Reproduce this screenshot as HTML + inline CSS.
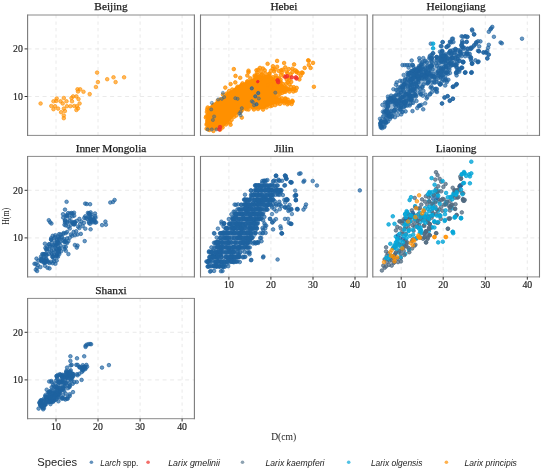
<!DOCTYPE html><html><head><meta charset="utf-8"><style>html,body{margin:0;padding:0;background:#fff;}svg{display:block}</style></head><body>
<svg width="550" height="476" viewBox="0 0 550 476">
<rect width="550" height="476" fill="#fff"/>
<path d="M56.0 15.0V135.4M98.0 15.0V135.4M140.1 15.0V135.4M182.1 15.0V135.4M228.9 15.0V135.4M270.9 15.0V135.4M313.0 15.0V135.4M355.0 15.0V135.4M401.2 15.0V135.4M443.2 15.0V135.4M485.3 15.0V135.4M527.3 15.0V135.4M56.0 156.4V276.9M98.0 156.4V276.9M140.1 156.4V276.9M182.1 156.4V276.9M228.9 156.4V276.9M270.9 156.4V276.9M313.0 156.4V276.9M355.0 156.4V276.9M401.2 156.4V276.9M443.2 156.4V276.9M485.3 156.4V276.9M527.3 156.4V276.9M56.0 298.4V418.7M98.0 298.4V418.7M140.1 298.4V418.7M182.1 298.4V418.7" stroke="#e4e4e4" stroke-width="0.8" stroke-dasharray="3.3 3.2" fill="none"/>
<path d="M27.6 96.5H194.4M27.6 48.9H194.4M200.5 96.5H367.2M200.5 48.9H367.2M372.8 96.5H539.5M372.8 48.9H539.5M27.6 237.9H194.4M27.6 190.3H194.4M200.5 237.9H367.2M200.5 190.3H367.2M372.8 237.9H539.5M372.8 190.3H539.5M27.6 379.9H194.4M27.6 332.3H194.4" stroke="#e4e4e4" stroke-width="0.8" stroke-dasharray="4 3.5" fill="none"/>
<g>
<g fill="#ff9000" fill-opacity="0.64" stroke="#ff9000" stroke-opacity="0.70" stroke-width="0.9"><circle cx="40.6" cy="103.5" r="1.8"/><circle cx="51.3" cy="106.0" r="1.8"/><circle cx="53.5" cy="101.3" r="1.8"/><circle cx="55.1" cy="106.2" r="1.8"/><circle cx="53.5" cy="109.2" r="1.8"/><circle cx="56.7" cy="98.5" r="1.8"/><circle cx="56.2" cy="100.9" r="1.8"/><circle cx="58.1" cy="108.6" r="1.8"/><circle cx="60.5" cy="101.3" r="1.8"/><circle cx="62.7" cy="103.5" r="1.8"/><circle cx="63.8" cy="98.0" r="1.8"/><circle cx="66.5" cy="101.3" r="1.8"/><circle cx="63.8" cy="108.6" r="1.8"/><circle cx="64.9" cy="111.1" r="1.8"/><circle cx="61.1" cy="112.2" r="1.8"/><circle cx="63.8" cy="115.5" r="1.8"/><circle cx="63.8" cy="118.2" r="1.8"/><circle cx="66.9" cy="106.2" r="1.8"/><circle cx="70.4" cy="106.2" r="1.8"/><circle cx="71.5" cy="98.0" r="1.8"/><circle cx="72.0" cy="101.3" r="1.8"/><circle cx="73.1" cy="96.4" r="1.8"/><circle cx="76.4" cy="96.4" r="1.8"/><circle cx="78.5" cy="99.1" r="1.8"/><circle cx="74.2" cy="106.0" r="1.8"/><circle cx="76.9" cy="106.2" r="1.8"/><circle cx="79.6" cy="103.5" r="1.8"/><circle cx="78.0" cy="108.4" r="1.8"/><circle cx="76.4" cy="110.0" r="1.8"/><circle cx="77.5" cy="89.3" r="1.8"/><circle cx="80.2" cy="89.3" r="1.8"/><circle cx="78.0" cy="91.5" r="1.8"/><circle cx="83.5" cy="91.8" r="1.8"/><circle cx="89.7" cy="94.1" r="1.8"/><circle cx="97.1" cy="72.6" r="1.8"/><circle cx="97.9" cy="82.1" r="1.8"/><circle cx="95.9" cy="87.0" r="1.8"/><circle cx="107.2" cy="79.2" r="1.8"/><circle cx="113.5" cy="77.3" r="1.8"/><circle cx="115.6" cy="82.1" r="1.8"/><circle cx="124.1" cy="77.3" r="1.8"/></g>
</g>
<g>
<path d="M206.5 129.4L205.9 118.8L206.5 109.4L208.2 107.1L211.8 104.7L215.3 101.8L218.8 99.4L222.4 97.1L225.3 94.1L228.2 91.8L231.8 90.0L235.3 87.1L238.8 84.7L242.4 82.9L247.1 81.2L250.0 79.7L254.7 77.4L260.6 76.2L265.3 75.0L270.0 75.6L273.5 77.4L278.2 79.7L281.8 83.2L285.3 86.8L290.0 88.0L295.9 88.5L297.1 89.7L293.5 90.9L287.6 91.5L282.9 92.6L278.2 93.8L275.9 95.6L279.4 97.9L284.1 99.1L290.0 100.3L293.5 101.5L291.2 103.2L285.3 103.8L280.6 103.2L273.5 104.4L267.6 106.8L264.1 109.1L260.0 109.4L255.3 109.4L249.4 108.2L244.7 109.4L241.2 110.6L237.6 114.1L234.1 116.5L231.8 118.8L229.4 121.2L225.9 124.7L223.5 127.1L221.2 128.8L217.6 129.4L211.8 130.0Z" fill="#ff9000" fill-opacity="1.0"/>
<g fill="#ff9000" fill-opacity="0.77" stroke="#ff9000" stroke-opacity="0.84" stroke-width="0.9"><circle cx="261.0" cy="78.2" r="1.8"/><circle cx="260.3" cy="79.5" r="1.8"/><circle cx="300.7" cy="75.7" r="1.8"/><circle cx="278.7" cy="81.3" r="1.8"/><circle cx="280.9" cy="74.8" r="1.8"/><circle cx="248.5" cy="72.2" r="1.8"/><circle cx="274.6" cy="85.9" r="1.8"/><circle cx="268.2" cy="85.2" r="1.8"/><circle cx="272.3" cy="86.5" r="1.8"/><circle cx="274.2" cy="88.2" r="1.8"/><circle cx="281.3" cy="70.2" r="1.8"/><circle cx="271.0" cy="70.8" r="1.8"/><circle cx="299.4" cy="79.4" r="1.8"/><circle cx="257.2" cy="74.7" r="1.8"/><circle cx="273.0" cy="68.8" r="1.8"/><circle cx="291.2" cy="81.9" r="1.8"/><circle cx="278.2" cy="78.8" r="1.8"/><circle cx="280.6" cy="79.7" r="1.8"/><circle cx="296.7" cy="71.4" r="1.8"/><circle cx="289.2" cy="80.3" r="1.8"/><circle cx="278.0" cy="80.5" r="1.8"/><circle cx="298.4" cy="73.1" r="1.8"/><circle cx="274.8" cy="69.5" r="1.8"/><circle cx="284.0" cy="76.3" r="1.8"/><circle cx="292.5" cy="68.7" r="1.8"/><circle cx="286.2" cy="83.7" r="1.8"/><circle cx="279.2" cy="78.2" r="1.8"/><circle cx="302.6" cy="72.9" r="1.8"/><circle cx="287.8" cy="82.3" r="1.8"/><circle cx="289.2" cy="77.6" r="1.8"/><circle cx="270.3" cy="86.9" r="1.8"/><circle cx="269.3" cy="73.8" r="1.8"/><circle cx="280.0" cy="81.9" r="1.8"/><circle cx="286.7" cy="79.5" r="1.8"/><circle cx="270.6" cy="84.1" r="1.8"/></g>
<g fill="#ff9000" fill-opacity="0.77" stroke="#ff9000" stroke-opacity="0.84" stroke-width="0.9"><circle cx="206.6" cy="128.7" r="1.8"/><circle cx="206.6" cy="124.7" r="1.8"/><circle cx="207.0" cy="123.5" r="1.8"/><circle cx="207.2" cy="121.0" r="1.8"/><circle cx="205.9" cy="117.6" r="1.8"/><circle cx="206.4" cy="116.3" r="1.8"/><circle cx="206.9" cy="112.0" r="1.8"/><circle cx="207.2" cy="109.5" r="1.8"/><circle cx="207.7" cy="107.5" r="1.8"/><circle cx="213.3" cy="104.8" r="1.8"/><circle cx="217.8" cy="100.5" r="1.8"/><circle cx="220.4" cy="99.3" r="1.8"/><circle cx="223.0" cy="94.6" r="1.8"/><circle cx="226.8" cy="93.6" r="1.8"/><circle cx="229.1" cy="91.1" r="1.8"/><circle cx="232.3" cy="89.5" r="1.8"/><circle cx="237.5" cy="86.7" r="1.8"/><circle cx="241.7" cy="84.9" r="1.8"/><circle cx="242.5" cy="83.4" r="1.8"/><circle cx="247.1" cy="81.7" r="1.8"/><circle cx="247.6" cy="81.4" r="1.8"/><circle cx="250.3" cy="78.3" r="1.8"/><circle cx="254.7" cy="77.0" r="1.8"/><circle cx="255.9" cy="76.3" r="1.8"/><circle cx="258.8" cy="77.6" r="1.8"/><circle cx="260.9" cy="75.1" r="1.8"/><circle cx="263.6" cy="76.3" r="1.8"/><circle cx="268.1" cy="76.5" r="1.8"/><circle cx="269.6" cy="76.2" r="1.8"/><circle cx="272.8" cy="77.2" r="1.8"/><circle cx="275.9" cy="77.9" r="1.8"/><circle cx="278.7" cy="81.7" r="1.8"/><circle cx="280.7" cy="82.3" r="1.8"/><circle cx="282.7" cy="84.0" r="1.8"/><circle cx="284.4" cy="86.7" r="1.8"/><circle cx="285.8" cy="87.5" r="1.8"/><circle cx="287.5" cy="88.6" r="1.8"/><circle cx="291.0" cy="86.9" r="1.8"/><circle cx="293.9" cy="87.2" r="1.8"/><circle cx="296.7" cy="87.9" r="1.8"/><circle cx="295.7" cy="90.6" r="1.8"/><circle cx="293.4" cy="91.5" r="1.8"/><circle cx="289.5" cy="91.6" r="1.8"/><circle cx="285.6" cy="91.7" r="1.8"/><circle cx="284.0" cy="91.9" r="1.8"/><circle cx="282.1" cy="92.9" r="1.8"/><circle cx="279.8" cy="94.0" r="1.8"/><circle cx="278.3" cy="94.4" r="1.8"/><circle cx="275.9" cy="96.8" r="1.8"/><circle cx="279.0" cy="97.8" r="1.8"/><circle cx="281.8" cy="98.3" r="1.8"/><circle cx="285.5" cy="99.1" r="1.8"/><circle cx="287.8" cy="99.6" r="1.8"/><circle cx="292.3" cy="100.7" r="1.8"/><circle cx="292.3" cy="101.8" r="1.8"/><circle cx="291.6" cy="104.0" r="1.8"/><circle cx="287.4" cy="104.3" r="1.8"/><circle cx="284.2" cy="103.2" r="1.8"/><circle cx="279.9" cy="103.9" r="1.8"/><circle cx="277.5" cy="103.5" r="1.8"/><circle cx="275.1" cy="105.1" r="1.8"/><circle cx="272.0" cy="105.6" r="1.8"/><circle cx="270.2" cy="106.1" r="1.8"/><circle cx="266.6" cy="107.4" r="1.8"/><circle cx="263.1" cy="109.6" r="1.8"/><circle cx="258.0" cy="109.0" r="1.8"/><circle cx="253.9" cy="109.5" r="1.8"/><circle cx="252.6" cy="107.6" r="1.8"/><circle cx="248.6" cy="109.5" r="1.8"/><circle cx="246.7" cy="109.3" r="1.8"/><circle cx="245.3" cy="108.6" r="1.8"/><circle cx="241.3" cy="111.0" r="1.8"/><circle cx="240.0" cy="113.1" r="1.8"/><circle cx="236.3" cy="115.5" r="1.8"/><circle cx="234.1" cy="116.8" r="1.8"/><circle cx="231.6" cy="119.8" r="1.8"/><circle cx="229.9" cy="122.4" r="1.8"/><circle cx="227.6" cy="122.6" r="1.8"/><circle cx="225.9" cy="124.5" r="1.8"/><circle cx="222.6" cy="127.4" r="1.8"/><circle cx="220.2" cy="129.6" r="1.8"/><circle cx="216.5" cy="128.5" r="1.8"/><circle cx="213.4" cy="130.9" r="1.8"/><circle cx="209.4" cy="129.9" r="1.8"/><circle cx="208.2" cy="129.3" r="1.8"/></g>
<g fill="#ff9000" fill-opacity="0.77" stroke="#ff9000" stroke-opacity="0.84" stroke-width="0.9"><circle cx="233.8" cy="69.1" r="1.8"/><circle cx="248.5" cy="70.7" r="1.8"/><circle cx="235.5" cy="75.9" r="1.8"/><circle cx="240.2" cy="77.8" r="1.8"/><circle cx="308.7" cy="60.8" r="1.8"/><circle cx="313.0" cy="62.9" r="1.8"/><circle cx="310.6" cy="67.9" r="1.8"/><circle cx="313.9" cy="86.8" r="1.8"/><circle cx="247.3" cy="75.5" r="1.8"/><circle cx="230.6" cy="84.1" r="1.8"/><circle cx="225.3" cy="87.6" r="1.8"/><circle cx="235.3" cy="82.4" r="1.8"/><circle cx="230.6" cy="124.7" r="1.8"/><circle cx="241.8" cy="117.6" r="1.8"/><circle cx="241.8" cy="110.0" r="1.8"/><circle cx="267.6" cy="63.8" r="1.8"/><circle cx="272.9" cy="66.2" r="1.8"/><circle cx="277.1" cy="60.9" r="1.8"/><circle cx="284.1" cy="63.0" r="1.8"/><circle cx="294.1" cy="64.4" r="1.8"/><circle cx="285.3" cy="67.4" r="1.8"/><circle cx="288.8" cy="69.1" r="1.8"/><circle cx="295.3" cy="70.3" r="1.8"/><circle cx="296.5" cy="72.1" r="1.8"/><circle cx="301.8" cy="72.6" r="1.8"/><circle cx="304.7" cy="67.9" r="1.8"/><circle cx="308.2" cy="60.3" r="1.8"/><circle cx="308.8" cy="65.0" r="1.8"/><circle cx="278.8" cy="70.9" r="1.8"/><circle cx="281.8" cy="72.6" r="1.8"/><circle cx="274.1" cy="71.5" r="1.8"/><circle cx="269.4" cy="73.8" r="1.8"/><circle cx="265.3" cy="73.2" r="1.8"/><circle cx="260.0" cy="67.9" r="1.8"/><circle cx="258.2" cy="69.7" r="1.8"/><circle cx="256.5" cy="70.3" r="1.8"/><circle cx="262.9" cy="68.5" r="1.8"/><circle cx="264.7" cy="70.3" r="1.8"/><circle cx="261.2" cy="72.1" r="1.8"/><circle cx="257.1" cy="72.6" r="1.8"/><circle cx="254.7" cy="75.6" r="1.8"/><circle cx="259.4" cy="76.8" r="1.8"/><circle cx="261.8" cy="74.4" r="1.8"/><circle cx="266.5" cy="76.8" r="1.8"/><circle cx="271.2" cy="78.5" r="1.8"/><circle cx="275.9" cy="75.6" r="1.8"/><circle cx="287.6" cy="73.2" r="1.8"/><circle cx="290.6" cy="74.4" r="1.8"/><circle cx="292.4" cy="72.1" r="1.8"/><circle cx="286.5" cy="71.5" r="1.8"/><circle cx="282.9" cy="69.7" r="1.8"/><circle cx="277.1" cy="66.8" r="1.8"/><circle cx="289.4" cy="84.4" r="1.8"/><circle cx="294.1" cy="89.1" r="1.8"/><circle cx="292.4" cy="101.5" r="1.8"/><circle cx="285.3" cy="98.5" r="1.8"/><circle cx="288.8" cy="103.2" r="1.8"/></g>
<g fill="#1f63a0" fill-opacity="0.42" stroke="#1f63a0" stroke-opacity="0.46" stroke-width="0.9"><circle cx="207.6" cy="129.4" r="1.6"/><circle cx="211.8" cy="129.4" r="1.6"/><circle cx="216.5" cy="129.4" r="1.6"/><circle cx="222.9" cy="92.9" r="1.6"/><circle cx="224.1" cy="97.1" r="1.6"/><circle cx="221.8" cy="98.8" r="1.6"/><circle cx="218.2" cy="99.4" r="1.6"/><circle cx="211.8" cy="102.9" r="1.6"/><circle cx="211.2" cy="109.4" r="1.6"/><circle cx="212.9" cy="120.0" r="1.6"/><circle cx="235.3" cy="98.2" r="1.6"/><circle cx="237.6" cy="98.8" r="1.6"/><circle cx="240.6" cy="111.8" r="1.6"/><circle cx="240.6" cy="115.3" r="1.6"/><circle cx="239.4" cy="113.5" r="1.6"/><circle cx="251.8" cy="88.2" r="1.6"/><circle cx="255.3" cy="96.5" r="1.6"/><circle cx="258.2" cy="92.9" r="1.6"/><circle cx="254.1" cy="105.3" r="1.6"/><circle cx="256.5" cy="104.1" r="1.6"/><circle cx="251.8" cy="101.2" r="1.6"/><circle cx="241.8" cy="108.2" r="1.6"/><circle cx="214.1" cy="116.5" r="1.6"/><circle cx="251.8" cy="88.5" r="1.6"/><circle cx="258.2" cy="93.2" r="1.6"/><circle cx="258.8" cy="98.5" r="1.6"/><circle cx="255.3" cy="96.2" r="1.6"/><circle cx="275.3" cy="92.6" r="1.6"/><circle cx="256.5" cy="104.4" r="1.6"/><circle cx="252.9" cy="102.1" r="1.6"/></g>
<g fill="#f0302a" fill-opacity="0.83" stroke="#f0302a" stroke-opacity="0.90" stroke-width="0.9"><circle cx="220.0" cy="127.1" r="1.8"/><circle cx="219.4" cy="129.4" r="1.8"/><circle cx="287.1" cy="76.2" r="1.8"/><circle cx="291.8" cy="77.4" r="1.8"/><circle cx="295.9" cy="77.4" r="1.8"/><circle cx="296.5" cy="78.5" r="1.8"/><circle cx="277.6" cy="80.3" r="1.8"/><circle cx="278.2" cy="82.1" r="1.8"/><circle cx="285.3" cy="76.8" r="1.8"/></g>
<g fill="#f0302a" fill-opacity="0.88" stroke="#f0302a" stroke-opacity="0.96" stroke-width="0.9"><circle cx="257.9" cy="81.4" r="1.1"/><circle cx="257.6" cy="81.8" r="1.1"/></g>
</g>
<g>
<path d="M381.5 127.5L379.1 123.5L380.2 117.6L382.6 113.0L382.5 107.5L385.0 103.5L388.5 100.0L391.4 97.5L392.7 96.0L396.5 90.9L400.4 83.3L405.5 76.9L408.0 72.5L411.8 70.5L416.9 66.7L420.7 62.9L428.4 61.0L434.7 59.1L441.1 55.3L446.2 52.5L450.3 51.5L454.0 51.4L456.6 52.1L457.8 55.2L455.3 59.0L454.0 62.8L452.8 66.6L450.3 70.3L447.7 72.9L445.2 75.4L442.7 77.9L438.9 80.4L433.2 81.5L428.4 83.2L423.6 87.1L420.0 92.0L418.0 97.0L414.4 103.5L405.0 108.2L397.9 111.8L393.2 115.3L389.6 120.0L386.1 123.5L384.0 127.5Z" fill="#1f63a0" fill-opacity="0.45"/>
<g fill="#1f63a0" fill-opacity="0.61" stroke="#1f63a0" stroke-opacity="0.66" stroke-width="0.9"><circle cx="457.2" cy="56.4" r="1.8"/><circle cx="419.0" cy="67.5" r="1.8"/><circle cx="425.6" cy="94.6" r="1.8"/><circle cx="445.3" cy="60.2" r="1.8"/><circle cx="448.0" cy="58.5" r="1.8"/><circle cx="432.1" cy="57.5" r="1.8"/><circle cx="425.2" cy="103.3" r="1.8"/><circle cx="456.6" cy="71.8" r="1.8"/><circle cx="404.2" cy="97.1" r="1.8"/><circle cx="407.4" cy="72.7" r="1.8"/><circle cx="405.4" cy="86.9" r="1.8"/><circle cx="439.9" cy="51.7" r="1.8"/><circle cx="409.9" cy="95.0" r="1.8"/><circle cx="394.9" cy="109.7" r="1.8"/><circle cx="408.0" cy="76.4" r="1.8"/><circle cx="387.1" cy="109.1" r="1.8"/><circle cx="380.7" cy="125.5" r="1.8"/><circle cx="425.7" cy="72.9" r="1.8"/><circle cx="413.4" cy="66.7" r="1.8"/><circle cx="417.8" cy="82.0" r="1.8"/><circle cx="382.4" cy="123.0" r="1.8"/><circle cx="451.7" cy="57.8" r="1.8"/><circle cx="390.7" cy="117.1" r="1.8"/><circle cx="403.6" cy="84.6" r="1.8"/><circle cx="419.9" cy="71.2" r="1.8"/><circle cx="421.7" cy="75.1" r="1.8"/><circle cx="409.7" cy="105.5" r="1.8"/><circle cx="402.4" cy="87.3" r="1.8"/><circle cx="399.7" cy="102.7" r="1.8"/><circle cx="408.3" cy="100.5" r="1.8"/><circle cx="423.4" cy="90.9" r="1.8"/><circle cx="392.2" cy="116.4" r="1.8"/><circle cx="442.1" cy="61.3" r="1.8"/><circle cx="436.4" cy="81.9" r="1.8"/><circle cx="416.5" cy="101.0" r="1.8"/><circle cx="396.9" cy="103.9" r="1.8"/><circle cx="419.2" cy="65.8" r="1.8"/><circle cx="418.7" cy="78.6" r="1.8"/><circle cx="402.1" cy="81.0" r="1.8"/><circle cx="387.7" cy="116.0" r="1.8"/><circle cx="431.8" cy="54.9" r="1.8"/><circle cx="425.8" cy="75.2" r="1.8"/><circle cx="430.2" cy="93.8" r="1.8"/><circle cx="431.4" cy="76.1" r="1.8"/><circle cx="431.9" cy="58.7" r="1.8"/><circle cx="410.8" cy="82.8" r="1.8"/><circle cx="430.2" cy="68.6" r="1.8"/><circle cx="414.3" cy="73.5" r="1.8"/><circle cx="402.8" cy="86.6" r="1.8"/><circle cx="388.3" cy="98.6" r="1.8"/><circle cx="416.7" cy="71.3" r="1.8"/><circle cx="446.7" cy="67.4" r="1.8"/><circle cx="431.3" cy="86.4" r="1.8"/><circle cx="443.3" cy="56.8" r="1.8"/><circle cx="444.8" cy="72.0" r="1.8"/><circle cx="424.7" cy="74.9" r="1.8"/><circle cx="403.8" cy="91.0" r="1.8"/><circle cx="418.6" cy="77.0" r="1.8"/><circle cx="415.4" cy="94.8" r="1.8"/><circle cx="411.6" cy="79.5" r="1.8"/><circle cx="452.9" cy="63.3" r="1.8"/><circle cx="383.3" cy="116.4" r="1.8"/><circle cx="439.0" cy="82.9" r="1.8"/><circle cx="402.8" cy="111.8" r="1.8"/><circle cx="458.1" cy="58.8" r="1.8"/><circle cx="419.8" cy="92.6" r="1.8"/><circle cx="421.5" cy="74.5" r="1.8"/><circle cx="391.1" cy="95.6" r="1.8"/><circle cx="449.3" cy="52.7" r="1.8"/><circle cx="397.9" cy="115.0" r="1.8"/><circle cx="452.0" cy="65.2" r="1.8"/><circle cx="440.6" cy="58.2" r="1.8"/><circle cx="390.8" cy="97.7" r="1.8"/><circle cx="455.2" cy="58.1" r="1.8"/><circle cx="415.7" cy="73.1" r="1.8"/><circle cx="430.6" cy="87.6" r="1.8"/><circle cx="382.4" cy="104.9" r="1.8"/><circle cx="390.9" cy="99.4" r="1.8"/><circle cx="426.6" cy="98.5" r="1.8"/><circle cx="400.8" cy="92.8" r="1.8"/><circle cx="400.0" cy="109.3" r="1.8"/><circle cx="423.3" cy="58.1" r="1.8"/><circle cx="442.7" cy="61.9" r="1.8"/><circle cx="385.0" cy="102.4" r="1.8"/><circle cx="430.1" cy="66.8" r="1.8"/><circle cx="450.1" cy="58.6" r="1.8"/><circle cx="432.8" cy="76.4" r="1.8"/><circle cx="431.8" cy="75.9" r="1.8"/><circle cx="429.9" cy="94.6" r="1.8"/><circle cx="443.0" cy="79.8" r="1.8"/><circle cx="432.3" cy="82.6" r="1.8"/><circle cx="410.7" cy="79.0" r="1.8"/><circle cx="455.4" cy="59.6" r="1.8"/><circle cx="398.3" cy="87.0" r="1.8"/><circle cx="380.3" cy="123.7" r="1.8"/><circle cx="387.9" cy="102.5" r="1.8"/><circle cx="403.3" cy="103.0" r="1.8"/><circle cx="442.0" cy="60.5" r="1.8"/><circle cx="409.7" cy="72.9" r="1.8"/><circle cx="418.9" cy="70.5" r="1.8"/><circle cx="434.7" cy="82.7" r="1.8"/><circle cx="382.9" cy="111.7" r="1.8"/><circle cx="423.4" cy="76.1" r="1.8"/><circle cx="460.3" cy="51.5" r="1.8"/><circle cx="400.1" cy="80.8" r="1.8"/><circle cx="380.8" cy="127.6" r="1.8"/><circle cx="393.4" cy="89.2" r="1.8"/><circle cx="413.1" cy="91.1" r="1.8"/><circle cx="453.3" cy="64.8" r="1.8"/><circle cx="420.6" cy="94.4" r="1.8"/><circle cx="410.8" cy="98.9" r="1.8"/><circle cx="404.7" cy="84.3" r="1.8"/><circle cx="450.6" cy="65.6" r="1.8"/><circle cx="385.3" cy="111.1" r="1.8"/><circle cx="450.0" cy="73.0" r="1.8"/><circle cx="415.4" cy="94.9" r="1.8"/><circle cx="414.7" cy="73.1" r="1.8"/><circle cx="401.2" cy="114.4" r="1.8"/><circle cx="400.7" cy="103.1" r="1.8"/><circle cx="431.7" cy="66.2" r="1.8"/><circle cx="415.5" cy="77.1" r="1.8"/><circle cx="441.8" cy="54.9" r="1.8"/><circle cx="424.4" cy="61.2" r="1.8"/><circle cx="440.3" cy="84.0" r="1.8"/><circle cx="415.9" cy="83.6" r="1.8"/><circle cx="430.2" cy="55.6" r="1.8"/><circle cx="382.1" cy="128.2" r="1.8"/><circle cx="412.3" cy="64.9" r="1.8"/><circle cx="427.3" cy="76.6" r="1.8"/><circle cx="444.0" cy="67.0" r="1.8"/><circle cx="408.6" cy="67.6" r="1.8"/><circle cx="386.2" cy="106.6" r="1.8"/><circle cx="457.2" cy="63.5" r="1.8"/><circle cx="448.0" cy="73.9" r="1.8"/><circle cx="422.8" cy="95.7" r="1.8"/><circle cx="405.1" cy="78.8" r="1.8"/><circle cx="419.6" cy="105.4" r="1.8"/><circle cx="409.6" cy="96.3" r="1.8"/><circle cx="440.7" cy="72.5" r="1.8"/><circle cx="459.7" cy="69.8" r="1.8"/><circle cx="440.9" cy="53.0" r="1.8"/><circle cx="396.0" cy="89.9" r="1.8"/><circle cx="456.8" cy="66.8" r="1.8"/><circle cx="440.8" cy="78.0" r="1.8"/><circle cx="456.0" cy="64.7" r="1.8"/><circle cx="392.3" cy="99.5" r="1.8"/><circle cx="445.3" cy="65.6" r="1.8"/><circle cx="441.9" cy="81.6" r="1.8"/><circle cx="415.1" cy="90.9" r="1.8"/><circle cx="457.6" cy="72.1" r="1.8"/><circle cx="402.3" cy="97.2" r="1.8"/><circle cx="463.0" cy="62.5" r="1.8"/><circle cx="427.3" cy="97.1" r="1.8"/><circle cx="397.8" cy="104.8" r="1.8"/><circle cx="390.9" cy="98.1" r="1.8"/><circle cx="386.8" cy="109.9" r="1.8"/><circle cx="410.6" cy="85.1" r="1.8"/><circle cx="425.6" cy="78.1" r="1.8"/><circle cx="387.9" cy="96.6" r="1.8"/><circle cx="410.6" cy="103.7" r="1.8"/><circle cx="461.1" cy="53.0" r="1.8"/><circle cx="419.9" cy="76.4" r="1.8"/><circle cx="411.3" cy="71.1" r="1.8"/><circle cx="421.6" cy="104.8" r="1.8"/><circle cx="403.7" cy="75.0" r="1.8"/><circle cx="398.5" cy="102.3" r="1.8"/><circle cx="445.3" cy="77.0" r="1.8"/><circle cx="418.1" cy="78.8" r="1.8"/><circle cx="416.7" cy="86.2" r="1.8"/><circle cx="416.0" cy="96.3" r="1.8"/><circle cx="390.6" cy="111.8" r="1.8"/><circle cx="414.8" cy="69.5" r="1.8"/><circle cx="419.1" cy="70.8" r="1.8"/><circle cx="436.5" cy="57.2" r="1.8"/><circle cx="430.5" cy="58.3" r="1.8"/><circle cx="460.5" cy="49.6" r="1.8"/><circle cx="401.1" cy="109.6" r="1.8"/><circle cx="434.5" cy="78.1" r="1.8"/><circle cx="410.1" cy="86.6" r="1.8"/><circle cx="398.8" cy="94.2" r="1.8"/><circle cx="400.8" cy="92.3" r="1.8"/><circle cx="442.2" cy="58.1" r="1.8"/><circle cx="420.1" cy="105.6" r="1.8"/><circle cx="414.6" cy="88.8" r="1.8"/><circle cx="403.9" cy="84.4" r="1.8"/><circle cx="410.3" cy="91.0" r="1.8"/><circle cx="460.0" cy="53.4" r="1.8"/><circle cx="417.2" cy="108.1" r="1.8"/><circle cx="424.3" cy="79.3" r="1.8"/><circle cx="459.3" cy="71.8" r="1.8"/><circle cx="421.2" cy="94.0" r="1.8"/><circle cx="395.9" cy="84.7" r="1.8"/><circle cx="401.9" cy="112.0" r="1.8"/><circle cx="443.1" cy="68.8" r="1.8"/><circle cx="411.9" cy="99.2" r="1.8"/><circle cx="456.9" cy="61.7" r="1.8"/><circle cx="454.6" cy="50.3" r="1.8"/><circle cx="429.6" cy="56.7" r="1.8"/><circle cx="431.7" cy="65.4" r="1.8"/><circle cx="461.5" cy="56.2" r="1.8"/></g>
<g fill="#1f63a0" fill-opacity="0.61" stroke="#1f63a0" stroke-opacity="0.66" stroke-width="0.9"><circle cx="417.3" cy="71.3" r="1.8"/><circle cx="442.5" cy="71.6" r="1.8"/><circle cx="386.4" cy="112.3" r="1.8"/><circle cx="429.1" cy="73.6" r="1.8"/><circle cx="394.9" cy="101.3" r="1.8"/><circle cx="426.5" cy="74.6" r="1.8"/><circle cx="388.3" cy="101.8" r="1.8"/><circle cx="427.9" cy="74.7" r="1.8"/><circle cx="408.8" cy="81.0" r="1.8"/><circle cx="437.9" cy="71.6" r="1.8"/><circle cx="400.2" cy="87.5" r="1.8"/><circle cx="408.8" cy="74.7" r="1.8"/><circle cx="442.4" cy="76.0" r="1.8"/><circle cx="426.6" cy="75.8" r="1.8"/><circle cx="410.4" cy="88.5" r="1.8"/><circle cx="387.9" cy="106.1" r="1.8"/><circle cx="446.3" cy="56.1" r="1.8"/><circle cx="427.4" cy="83.5" r="1.8"/><circle cx="417.8" cy="87.1" r="1.8"/><circle cx="390.5" cy="99.0" r="1.8"/><circle cx="426.8" cy="62.4" r="1.8"/><circle cx="389.1" cy="114.8" r="1.8"/><circle cx="400.9" cy="105.6" r="1.8"/><circle cx="384.1" cy="112.3" r="1.8"/><circle cx="453.1" cy="57.8" r="1.8"/><circle cx="446.6" cy="72.7" r="1.8"/><circle cx="451.7" cy="53.8" r="1.8"/><circle cx="385.8" cy="113.5" r="1.8"/><circle cx="436.7" cy="60.1" r="1.8"/><circle cx="422.2" cy="86.7" r="1.8"/><circle cx="396.5" cy="94.3" r="1.8"/><circle cx="398.0" cy="95.0" r="1.8"/><circle cx="409.1" cy="85.0" r="1.8"/><circle cx="392.0" cy="99.0" r="1.8"/><circle cx="388.1" cy="105.5" r="1.8"/><circle cx="441.0" cy="68.6" r="1.8"/><circle cx="402.2" cy="87.2" r="1.8"/><circle cx="392.4" cy="101.7" r="1.8"/><circle cx="456.5" cy="55.2" r="1.8"/><circle cx="430.3" cy="73.2" r="1.8"/><circle cx="441.1" cy="67.7" r="1.8"/><circle cx="425.7" cy="70.8" r="1.8"/><circle cx="381.3" cy="121.5" r="1.8"/><circle cx="444.6" cy="55.3" r="1.8"/><circle cx="444.3" cy="58.1" r="1.8"/><circle cx="425.6" cy="72.2" r="1.8"/><circle cx="409.3" cy="96.6" r="1.8"/><circle cx="416.9" cy="72.0" r="1.8"/><circle cx="389.9" cy="119.0" r="1.8"/><circle cx="449.9" cy="63.1" r="1.8"/><circle cx="452.0" cy="58.2" r="1.8"/><circle cx="417.5" cy="79.1" r="1.8"/><circle cx="435.7" cy="63.2" r="1.8"/><circle cx="431.4" cy="60.9" r="1.8"/><circle cx="381.5" cy="127.0" r="1.8"/><circle cx="400.7" cy="106.3" r="1.8"/><circle cx="409.3" cy="98.9" r="1.8"/><circle cx="387.1" cy="115.0" r="1.8"/><circle cx="390.7" cy="102.2" r="1.8"/><circle cx="416.0" cy="82.2" r="1.8"/><circle cx="445.1" cy="59.3" r="1.8"/><circle cx="413.6" cy="70.8" r="1.8"/><circle cx="421.7" cy="77.7" r="1.8"/><circle cx="421.3" cy="64.4" r="1.8"/><circle cx="448.5" cy="68.0" r="1.8"/><circle cx="386.2" cy="118.0" r="1.8"/><circle cx="422.1" cy="78.7" r="1.8"/><circle cx="412.9" cy="95.9" r="1.8"/><circle cx="400.3" cy="100.0" r="1.8"/><circle cx="412.6" cy="79.6" r="1.8"/><circle cx="449.6" cy="63.8" r="1.8"/><circle cx="400.9" cy="100.8" r="1.8"/><circle cx="404.1" cy="101.9" r="1.8"/><circle cx="421.1" cy="64.8" r="1.8"/><circle cx="409.7" cy="96.5" r="1.8"/><circle cx="437.4" cy="72.9" r="1.8"/><circle cx="449.4" cy="69.7" r="1.8"/><circle cx="391.2" cy="111.0" r="1.8"/><circle cx="450.0" cy="59.6" r="1.8"/><circle cx="441.6" cy="61.7" r="1.8"/><circle cx="404.9" cy="83.4" r="1.8"/><circle cx="417.5" cy="76.0" r="1.8"/><circle cx="427.5" cy="66.1" r="1.8"/><circle cx="431.8" cy="62.0" r="1.8"/><circle cx="410.3" cy="95.3" r="1.8"/><circle cx="388.5" cy="100.4" r="1.8"/><circle cx="418.4" cy="70.7" r="1.8"/><circle cx="407.5" cy="105.6" r="1.8"/><circle cx="411.5" cy="96.2" r="1.8"/><circle cx="403.1" cy="96.3" r="1.8"/><circle cx="449.1" cy="63.6" r="1.8"/><circle cx="416.0" cy="76.3" r="1.8"/><circle cx="380.0" cy="118.8" r="1.8"/><circle cx="419.6" cy="78.1" r="1.8"/><circle cx="406.4" cy="100.9" r="1.8"/><circle cx="427.8" cy="83.2" r="1.8"/><circle cx="407.2" cy="79.5" r="1.8"/><circle cx="429.3" cy="72.7" r="1.8"/><circle cx="394.1" cy="113.5" r="1.8"/><circle cx="381.0" cy="121.0" r="1.8"/><circle cx="446.4" cy="57.2" r="1.8"/><circle cx="431.6" cy="66.1" r="1.8"/><circle cx="405.1" cy="102.3" r="1.8"/><circle cx="404.8" cy="92.7" r="1.8"/><circle cx="402.4" cy="97.1" r="1.8"/><circle cx="419.4" cy="67.8" r="1.8"/><circle cx="394.8" cy="104.8" r="1.8"/><circle cx="403.9" cy="106.4" r="1.8"/><circle cx="411.1" cy="78.7" r="1.8"/><circle cx="411.3" cy="73.2" r="1.8"/><circle cx="440.5" cy="61.3" r="1.8"/><circle cx="428.3" cy="67.3" r="1.8"/><circle cx="384.5" cy="126.2" r="1.8"/><circle cx="409.2" cy="94.3" r="1.8"/><circle cx="444.4" cy="55.9" r="1.8"/><circle cx="388.1" cy="113.5" r="1.8"/><circle cx="411.0" cy="90.8" r="1.8"/><circle cx="424.8" cy="76.3" r="1.8"/><circle cx="429.3" cy="80.4" r="1.8"/><circle cx="386.4" cy="122.4" r="1.8"/><circle cx="412.5" cy="90.1" r="1.8"/><circle cx="405.2" cy="98.0" r="1.8"/><circle cx="384.8" cy="119.6" r="1.8"/><circle cx="395.3" cy="103.0" r="1.8"/><circle cx="445.4" cy="54.1" r="1.8"/><circle cx="388.2" cy="112.6" r="1.8"/><circle cx="423.6" cy="72.1" r="1.8"/><circle cx="399.3" cy="99.7" r="1.8"/><circle cx="407.9" cy="74.6" r="1.8"/><circle cx="410.7" cy="99.9" r="1.8"/><circle cx="394.8" cy="96.0" r="1.8"/><circle cx="447.7" cy="71.9" r="1.8"/><circle cx="397.4" cy="90.3" r="1.8"/><circle cx="385.2" cy="121.4" r="1.8"/><circle cx="396.1" cy="100.0" r="1.8"/><circle cx="433.4" cy="76.1" r="1.8"/><circle cx="440.5" cy="56.8" r="1.8"/><circle cx="388.0" cy="106.4" r="1.8"/><circle cx="411.1" cy="75.9" r="1.8"/><circle cx="436.9" cy="66.0" r="1.8"/><circle cx="412.9" cy="76.5" r="1.8"/><circle cx="411.8" cy="71.3" r="1.8"/><circle cx="404.1" cy="84.9" r="1.8"/><circle cx="443.4" cy="55.5" r="1.8"/><circle cx="400.7" cy="107.4" r="1.8"/><circle cx="420.8" cy="72.2" r="1.8"/><circle cx="389.4" cy="115.8" r="1.8"/><circle cx="403.9" cy="107.3" r="1.8"/><circle cx="422.4" cy="87.3" r="1.8"/><circle cx="442.0" cy="56.6" r="1.8"/><circle cx="449.1" cy="52.7" r="1.8"/><circle cx="420.3" cy="89.0" r="1.8"/><circle cx="405.2" cy="103.6" r="1.8"/><circle cx="442.9" cy="68.8" r="1.8"/><circle cx="445.9" cy="67.7" r="1.8"/><circle cx="402.1" cy="85.7" r="1.8"/><circle cx="451.4" cy="61.9" r="1.8"/><circle cx="408.4" cy="93.4" r="1.8"/><circle cx="427.5" cy="74.0" r="1.8"/><circle cx="442.6" cy="70.5" r="1.8"/><circle cx="455.3" cy="52.4" r="1.8"/><circle cx="412.4" cy="85.4" r="1.8"/><circle cx="412.5" cy="79.1" r="1.8"/><circle cx="451.6" cy="53.4" r="1.8"/><circle cx="446.3" cy="66.4" r="1.8"/><circle cx="412.6" cy="83.7" r="1.8"/><circle cx="428.3" cy="71.0" r="1.8"/><circle cx="414.1" cy="87.2" r="1.8"/><circle cx="414.6" cy="93.9" r="1.8"/><circle cx="413.1" cy="102.9" r="1.8"/><circle cx="416.9" cy="73.1" r="1.8"/><circle cx="403.5" cy="101.5" r="1.8"/><circle cx="422.4" cy="64.4" r="1.8"/><circle cx="398.6" cy="106.3" r="1.8"/><circle cx="405.4" cy="105.7" r="1.8"/><circle cx="445.9" cy="72.8" r="1.8"/><circle cx="445.8" cy="60.5" r="1.8"/><circle cx="385.8" cy="122.0" r="1.8"/><circle cx="391.6" cy="100.4" r="1.8"/><circle cx="427.4" cy="72.4" r="1.8"/><circle cx="392.6" cy="101.1" r="1.8"/><circle cx="423.5" cy="69.1" r="1.8"/><circle cx="419.7" cy="69.0" r="1.8"/><circle cx="402.7" cy="89.4" r="1.8"/><circle cx="394.3" cy="110.5" r="1.8"/><circle cx="413.0" cy="70.4" r="1.8"/><circle cx="453.9" cy="52.8" r="1.8"/><circle cx="414.4" cy="77.0" r="1.8"/><circle cx="438.9" cy="63.2" r="1.8"/><circle cx="408.8" cy="98.1" r="1.8"/><circle cx="444.4" cy="56.8" r="1.8"/><circle cx="396.0" cy="106.8" r="1.8"/><circle cx="422.1" cy="74.7" r="1.8"/><circle cx="423.6" cy="84.3" r="1.8"/><circle cx="443.1" cy="75.2" r="1.8"/><circle cx="390.5" cy="98.5" r="1.8"/><circle cx="419.1" cy="79.8" r="1.8"/><circle cx="405.9" cy="103.1" r="1.8"/><circle cx="386.7" cy="111.1" r="1.8"/><circle cx="398.1" cy="110.9" r="1.8"/><circle cx="395.0" cy="100.3" r="1.8"/><circle cx="425.3" cy="67.7" r="1.8"/><circle cx="414.3" cy="75.8" r="1.8"/><circle cx="386.3" cy="102.9" r="1.8"/><circle cx="445.8" cy="63.9" r="1.8"/><circle cx="398.6" cy="100.9" r="1.8"/><circle cx="415.1" cy="69.3" r="1.8"/><circle cx="447.0" cy="60.6" r="1.8"/><circle cx="418.9" cy="78.7" r="1.8"/><circle cx="432.6" cy="69.4" r="1.8"/><circle cx="417.7" cy="71.6" r="1.8"/><circle cx="384.1" cy="127.2" r="1.8"/><circle cx="430.9" cy="77.1" r="1.8"/><circle cx="416.8" cy="86.1" r="1.8"/><circle cx="410.4" cy="90.3" r="1.8"/><circle cx="414.1" cy="76.2" r="1.8"/><circle cx="419.4" cy="74.1" r="1.8"/><circle cx="438.9" cy="73.6" r="1.8"/><circle cx="405.8" cy="94.5" r="1.8"/><circle cx="436.5" cy="79.5" r="1.8"/><circle cx="420.8" cy="70.1" r="1.8"/><circle cx="394.0" cy="110.5" r="1.8"/><circle cx="391.8" cy="116.4" r="1.8"/><circle cx="388.6" cy="103.3" r="1.8"/><circle cx="451.2" cy="54.7" r="1.8"/><circle cx="450.8" cy="63.3" r="1.8"/><circle cx="445.1" cy="58.3" r="1.8"/><circle cx="440.4" cy="76.9" r="1.8"/><circle cx="400.5" cy="90.3" r="1.8"/><circle cx="411.4" cy="100.0" r="1.8"/><circle cx="413.9" cy="83.9" r="1.8"/><circle cx="434.8" cy="76.7" r="1.8"/><circle cx="416.2" cy="74.8" r="1.8"/><circle cx="418.5" cy="82.6" r="1.8"/><circle cx="413.5" cy="89.1" r="1.8"/><circle cx="416.2" cy="70.8" r="1.8"/><circle cx="441.5" cy="74.9" r="1.8"/><circle cx="407.5" cy="94.1" r="1.8"/><circle cx="428.2" cy="80.2" r="1.8"/><circle cx="406.3" cy="93.9" r="1.8"/><circle cx="438.7" cy="76.2" r="1.8"/><circle cx="420.3" cy="67.2" r="1.8"/><circle cx="424.8" cy="69.3" r="1.8"/><circle cx="445.7" cy="63.3" r="1.8"/><circle cx="394.0" cy="101.3" r="1.8"/><circle cx="416.2" cy="70.8" r="1.8"/><circle cx="413.9" cy="78.2" r="1.8"/><circle cx="403.1" cy="87.2" r="1.8"/><circle cx="446.6" cy="72.9" r="1.8"/><circle cx="431.4" cy="65.3" r="1.8"/><circle cx="413.4" cy="75.1" r="1.8"/><circle cx="440.9" cy="55.6" r="1.8"/><circle cx="393.5" cy="96.5" r="1.8"/><circle cx="417.2" cy="69.8" r="1.8"/><circle cx="438.7" cy="71.1" r="1.8"/><circle cx="419.8" cy="68.2" r="1.8"/><circle cx="439.1" cy="67.7" r="1.8"/><circle cx="452.7" cy="57.7" r="1.8"/><circle cx="433.5" cy="74.0" r="1.8"/><circle cx="434.3" cy="76.7" r="1.8"/><circle cx="417.9" cy="76.3" r="1.8"/><circle cx="380.5" cy="125.6" r="1.8"/><circle cx="428.5" cy="82.4" r="1.8"/><circle cx="408.3" cy="89.7" r="1.8"/><circle cx="430.4" cy="65.9" r="1.8"/><circle cx="405.3" cy="95.0" r="1.8"/><circle cx="438.1" cy="75.4" r="1.8"/><circle cx="413.4" cy="95.7" r="1.8"/><circle cx="409.9" cy="80.4" r="1.8"/><circle cx="437.6" cy="58.6" r="1.8"/><circle cx="404.3" cy="101.8" r="1.8"/><circle cx="394.2" cy="98.0" r="1.8"/><circle cx="426.5" cy="77.6" r="1.8"/><circle cx="443.0" cy="55.8" r="1.8"/><circle cx="417.8" cy="68.0" r="1.8"/><circle cx="400.5" cy="98.4" r="1.8"/><circle cx="404.5" cy="103.3" r="1.8"/><circle cx="400.8" cy="97.3" r="1.8"/><circle cx="405.0" cy="80.1" r="1.8"/><circle cx="441.1" cy="71.2" r="1.8"/><circle cx="440.7" cy="60.1" r="1.8"/><circle cx="396.6" cy="103.7" r="1.8"/><circle cx="407.8" cy="86.1" r="1.8"/><circle cx="421.0" cy="68.5" r="1.8"/><circle cx="390.5" cy="113.9" r="1.8"/><circle cx="387.5" cy="102.0" r="1.8"/><circle cx="406.5" cy="82.6" r="1.8"/><circle cx="428.7" cy="69.9" r="1.8"/><circle cx="389.4" cy="116.7" r="1.8"/><circle cx="395.7" cy="100.2" r="1.8"/><circle cx="404.3" cy="102.4" r="1.8"/><circle cx="413.8" cy="82.1" r="1.8"/><circle cx="410.0" cy="72.8" r="1.8"/><circle cx="405.9" cy="101.4" r="1.8"/><circle cx="413.8" cy="89.6" r="1.8"/><circle cx="428.0" cy="82.0" r="1.8"/><circle cx="421.8" cy="67.0" r="1.8"/><circle cx="410.6" cy="81.6" r="1.8"/><circle cx="380.8" cy="122.5" r="1.8"/><circle cx="411.5" cy="79.2" r="1.8"/></g>
<g fill="#1f63a0" fill-opacity="0.66" stroke="#1f63a0" stroke-opacity="0.72" stroke-width="0.9"><circle cx="396.7" cy="82.4" r="1.8"/><circle cx="452.9" cy="86.7" r="1.8"/><circle cx="455.7" cy="85.2" r="1.8"/><circle cx="444.5" cy="97.4" r="1.8"/><circle cx="447.6" cy="96.3" r="1.8"/><circle cx="449.9" cy="100.4" r="1.8"/><circle cx="452.9" cy="98.9" r="1.8"/><circle cx="441.9" cy="103.5" r="1.8"/><circle cx="423.2" cy="109.3" r="1.8"/><circle cx="418.6" cy="106.1" r="1.8"/><circle cx="412.5" cy="111.1" r="1.8"/><circle cx="405.6" cy="111.4" r="1.8"/><circle cx="394.9" cy="117.2" r="1.8"/><circle cx="388.0" cy="121.5" r="1.8"/><circle cx="385.7" cy="123.3" r="1.8"/><circle cx="436.1" cy="91.3" r="1.8"/><circle cx="436.9" cy="89.0" r="1.8"/><circle cx="432.3" cy="88.2" r="1.8"/><circle cx="440.0" cy="84.4" r="1.8"/><circle cx="433.9" cy="82.1" r="1.8"/><circle cx="445.3" cy="79.1" r="1.8"/><circle cx="446.8" cy="82.1" r="1.8"/><circle cx="381.2" cy="126.4" r="1.8"/><circle cx="380.4" cy="123.3" r="1.8"/><circle cx="384.2" cy="121.8" r="1.8"/><circle cx="430.8" cy="43.7" r="1.8"/><circle cx="432.8" cy="53.2" r="1.8"/><circle cx="442.6" cy="42.2" r="1.8"/><circle cx="441.5" cy="46.3" r="1.8"/><circle cx="446.8" cy="47.1" r="1.8"/><circle cx="448.4" cy="45.5" r="1.8"/><circle cx="449.9" cy="41.7" r="1.8"/><circle cx="452.9" cy="38.7" r="1.8"/><circle cx="451.4" cy="42.5" r="1.8"/><circle cx="442.3" cy="51.3" r="1.8"/><circle cx="449.9" cy="51.3" r="1.8"/><circle cx="411.7" cy="60.5" r="1.8"/><circle cx="419.3" cy="58.2" r="1.8"/><circle cx="419.7" cy="60.8" r="1.8"/><circle cx="402.5" cy="65.1" r="1.8"/><circle cx="404.8" cy="65.1" r="1.8"/><circle cx="407.1" cy="65.1" r="1.8"/><circle cx="409.4" cy="65.1" r="1.8"/><circle cx="412.9" cy="65.1" r="1.8"/><circle cx="429.3" cy="58.5" r="1.8"/><circle cx="431.6" cy="58.2" r="1.8"/><circle cx="436.9" cy="57.0" r="1.8"/><circle cx="425.5" cy="60.8" r="1.8"/><circle cx="422.4" cy="62.3" r="1.8"/><circle cx="408.7" cy="73.0" r="1.8"/><circle cx="416.3" cy="70.0" r="1.8"/><circle cx="472.0" cy="29.5" r="1.8"/><circle cx="474.0" cy="34.4" r="1.8"/><circle cx="462.9" cy="36.8" r="1.8"/><circle cx="465.2" cy="36.4" r="1.8"/><circle cx="467.5" cy="36.8" r="1.8"/><circle cx="466.7" cy="41.7" r="1.8"/><circle cx="462.1" cy="41.0" r="1.8"/><circle cx="462.1" cy="43.3" r="1.8"/><circle cx="461.3" cy="45.5" r="1.8"/><circle cx="462.9" cy="47.1" r="1.8"/><circle cx="464.4" cy="47.8" r="1.8"/><circle cx="467.5" cy="48.6" r="1.8"/><circle cx="471.3" cy="48.6" r="1.8"/><circle cx="470.5" cy="47.8" r="1.8"/><circle cx="473.6" cy="46.3" r="1.8"/><circle cx="475.9" cy="44.0" r="1.8"/><circle cx="476.6" cy="42.2" r="1.8"/><circle cx="480.4" cy="41.4" r="1.8"/><circle cx="478.9" cy="51.2" r="1.8"/><circle cx="483.5" cy="52.4" r="1.8"/><circle cx="485.8" cy="52.4" r="1.8"/><circle cx="487.3" cy="50.9" r="1.8"/><circle cx="488.1" cy="47.8" r="1.8"/><circle cx="488.8" cy="44.8" r="1.8"/><circle cx="488.8" cy="54.7" r="1.8"/><circle cx="487.3" cy="58.5" r="1.8"/><circle cx="478.1" cy="62.0" r="1.8"/><circle cx="472.0" cy="63.9" r="1.8"/><circle cx="471.3" cy="60.8" r="1.8"/><circle cx="470.5" cy="57.0" r="1.8"/><circle cx="469.7" cy="53.9" r="1.8"/><circle cx="466.7" cy="53.9" r="1.8"/><circle cx="465.2" cy="56.2" r="1.8"/><circle cx="460.6" cy="54.7" r="1.8"/><circle cx="458.3" cy="56.2" r="1.8"/><circle cx="459.8" cy="51.7" r="1.8"/><circle cx="456.0" cy="49.4" r="1.8"/><circle cx="457.5" cy="59.3" r="1.8"/><circle cx="459.8" cy="60.8" r="1.8"/><circle cx="462.9" cy="61.6" r="1.8"/><circle cx="461.3" cy="67.7" r="1.8"/><circle cx="465.2" cy="72.7" r="1.8"/><circle cx="471.3" cy="72.7" r="1.8"/><circle cx="456.0" cy="65.4" r="1.8"/><circle cx="457.5" cy="70.0" r="1.8"/><circle cx="456.0" cy="73.0" r="1.8"/><circle cx="488.8" cy="31.8" r="1.8"/><circle cx="490.4" cy="29.5" r="1.8"/><circle cx="492.3" cy="26.9" r="1.8"/><circle cx="491.1" cy="28.4" r="1.8"/><circle cx="493.9" cy="36.8" r="1.8"/><circle cx="500.6" cy="42.5" r="1.8"/><circle cx="501.8" cy="43.3" r="1.8"/><circle cx="522.0" cy="38.7" r="1.8"/><circle cx="442.1" cy="51.3" r="1.8"/><circle cx="461.8" cy="67.8" r="1.8"/><circle cx="465.0" cy="72.7" r="1.8"/><circle cx="471.4" cy="72.7" r="1.8"/><circle cx="472.0" cy="63.4" r="1.8"/><circle cx="477.7" cy="62.1" r="1.8"/><circle cx="486.0" cy="52.5" r="1.8"/><circle cx="487.3" cy="58.3" r="1.8"/><circle cx="488.5" cy="54.5" r="1.8"/><circle cx="456.7" cy="84.1" r="1.8"/><circle cx="452.9" cy="86.9" r="1.8"/><circle cx="446.5" cy="80.5" r="1.8"/><circle cx="440.2" cy="84.4" r="1.8"/><circle cx="435.7" cy="88.8" r="1.8"/><circle cx="437.0" cy="92.0" r="1.8"/><circle cx="431.9" cy="92.0" r="1.8"/><circle cx="444.6" cy="97.7" r="1.8"/><circle cx="447.6" cy="96.1" r="1.8"/><circle cx="449.7" cy="100.9" r="1.8"/><circle cx="452.9" cy="98.6" r="1.8"/><circle cx="442.1" cy="103.5" r="1.8"/><circle cx="456.1" cy="72.9" r="1.8"/><circle cx="463.1" cy="62.1" r="1.8"/><circle cx="470.7" cy="58.9" r="1.8"/><circle cx="468.2" cy="53.8" r="1.8"/><circle cx="466.9" cy="51.9" r="1.8"/><circle cx="479.0" cy="51.3" r="1.8"/><circle cx="483.5" cy="52.5" r="1.8"/><circle cx="433.2" cy="53.3" r="1.8"/><circle cx="442.7" cy="42.0" r="1.8"/><circle cx="440.8" cy="46.1" r="1.8"/><circle cx="446.5" cy="47.0" r="1.8"/><circle cx="448.4" cy="45.8" r="1.8"/><circle cx="450.3" cy="42.0" r="1.8"/><circle cx="452.1" cy="38.8" r="1.8"/><circle cx="453.4" cy="42.0" r="1.8"/><circle cx="461.6" cy="36.3" r="1.8"/><circle cx="465.4" cy="36.3" r="1.8"/><circle cx="467.3" cy="36.9" r="1.8"/><circle cx="474.2" cy="34.4" r="1.8"/><circle cx="472.3" cy="30.6" r="1.8"/><circle cx="466.6" cy="42.0" r="1.8"/><circle cx="462.9" cy="42.6" r="1.8"/><circle cx="461.6" cy="45.1" r="1.8"/><circle cx="462.2" cy="47.0" r="1.8"/><circle cx="463.5" cy="48.9" r="1.8"/><circle cx="467.9" cy="48.9" r="1.8"/><circle cx="470.4" cy="48.9" r="1.8"/><circle cx="471.7" cy="47.6" r="1.8"/><circle cx="474.2" cy="45.1" r="1.8"/><circle cx="476.1" cy="42.6" r="1.8"/><circle cx="478.0" cy="41.3" r="1.8"/><circle cx="479.2" cy="46.4" r="1.8"/><circle cx="478.0" cy="50.8" r="1.8"/><circle cx="478.6" cy="61.5" r="1.8"/><circle cx="475.5" cy="60.3" r="1.8"/><circle cx="471.1" cy="57.7" r="1.8"/><circle cx="472.3" cy="63.4" r="1.8"/><circle cx="469.2" cy="56.5" r="1.8"/><circle cx="466.6" cy="53.3" r="1.8"/><circle cx="464.1" cy="53.9" r="1.8"/><circle cx="460.3" cy="52.1" r="1.8"/><circle cx="457.8" cy="50.2" r="1.8"/><circle cx="455.3" cy="48.9" r="1.8"/><circle cx="452.8" cy="50.2" r="1.8"/><circle cx="450.3" cy="50.8" r="1.8"/><circle cx="442.1" cy="50.8" r="1.8"/><circle cx="436.4" cy="57.1" r="1.8"/><circle cx="462.2" cy="67.8" r="1.8"/><circle cx="465.4" cy="72.2" r="1.8"/><circle cx="471.7" cy="72.2" r="1.8"/><circle cx="456.6" cy="75.4" r="1.8"/><circle cx="453.4" cy="86.7" r="1.8"/><circle cx="456.6" cy="84.2" r="1.8"/><circle cx="440.8" cy="84.2" r="1.8"/><circle cx="445.2" cy="85.5" r="1.8"/><circle cx="435.1" cy="89.2" r="1.8"/><circle cx="454.7" cy="65.3" r="1.8"/><circle cx="459.1" cy="60.9" r="1.8"/><circle cx="463.5" cy="62.1" r="1.8"/><circle cx="456.6" cy="67.8" r="1.8"/><circle cx="459.1" cy="69.1" r="1.8"/><circle cx="448.4" cy="79.8" r="1.8"/><circle cx="444.6" cy="80.4" r="1.8"/></g>
<g fill="#06a6d8" fill-opacity="0.88" stroke="#06a6d8" stroke-opacity="0.96" stroke-width="0.9"><circle cx="433.1" cy="43.7" r="1.8"/><circle cx="433.1" cy="48.3" r="1.8"/></g>
</g>
<g>
<g fill="#1f63a0" fill-opacity="0.66" stroke="#1f63a0" stroke-opacity="0.72" stroke-width="0.9"><circle cx="51.1" cy="239.7" r="1.8"/><circle cx="45.0" cy="262.7" r="1.8"/><circle cx="56.7" cy="255.2" r="1.8"/><circle cx="56.0" cy="244.9" r="1.8"/><circle cx="61.1" cy="251.3" r="1.8"/><circle cx="64.2" cy="246.7" r="1.8"/><circle cx="60.9" cy="237.6" r="1.8"/><circle cx="58.9" cy="252.8" r="1.8"/><circle cx="41.9" cy="258.3" r="1.8"/><circle cx="41.2" cy="261.1" r="1.8"/><circle cx="64.2" cy="239.2" r="1.8"/><circle cx="43.8" cy="254.5" r="1.8"/><circle cx="43.8" cy="262.7" r="1.8"/><circle cx="57.9" cy="252.4" r="1.8"/><circle cx="45.4" cy="261.8" r="1.8"/><circle cx="64.4" cy="242.1" r="1.8"/><circle cx="44.4" cy="254.4" r="1.8"/><circle cx="51.8" cy="254.3" r="1.8"/><circle cx="54.3" cy="245.2" r="1.8"/><circle cx="53.3" cy="256.4" r="1.8"/><circle cx="52.4" cy="257.0" r="1.8"/><circle cx="58.9" cy="242.8" r="1.8"/><circle cx="41.4" cy="261.0" r="1.8"/><circle cx="43.3" cy="254.2" r="1.8"/><circle cx="43.9" cy="261.9" r="1.8"/><circle cx="57.6" cy="246.0" r="1.8"/><circle cx="47.1" cy="246.7" r="1.8"/><circle cx="51.9" cy="247.1" r="1.8"/><circle cx="46.3" cy="255.0" r="1.8"/><circle cx="48.1" cy="262.1" r="1.8"/><circle cx="49.5" cy="263.1" r="1.8"/><circle cx="51.1" cy="261.7" r="1.8"/><circle cx="59.2" cy="234.1" r="1.8"/><circle cx="47.0" cy="251.0" r="1.8"/><circle cx="46.7" cy="254.7" r="1.8"/><circle cx="57.3" cy="255.9" r="1.8"/><circle cx="56.0" cy="248.7" r="1.8"/><circle cx="63.7" cy="233.0" r="1.8"/><circle cx="58.4" cy="249.2" r="1.8"/><circle cx="58.8" cy="237.9" r="1.8"/><circle cx="57.2" cy="243.8" r="1.8"/><circle cx="66.1" cy="242.3" r="1.8"/><circle cx="44.6" cy="260.7" r="1.8"/><circle cx="65.0" cy="241.4" r="1.8"/><circle cx="57.0" cy="242.2" r="1.8"/><circle cx="47.0" cy="248.8" r="1.8"/><circle cx="57.2" cy="239.8" r="1.8"/><circle cx="45.4" cy="247.9" r="1.8"/><circle cx="41.8" cy="259.7" r="1.8"/><circle cx="45.8" cy="259.0" r="1.8"/><circle cx="49.4" cy="244.3" r="1.8"/><circle cx="45.1" cy="261.1" r="1.8"/><circle cx="46.6" cy="261.3" r="1.8"/><circle cx="54.9" cy="237.0" r="1.8"/><circle cx="58.9" cy="249.8" r="1.8"/><circle cx="41.0" cy="259.7" r="1.8"/><circle cx="51.2" cy="238.2" r="1.8"/><circle cx="55.3" cy="251.7" r="1.8"/><circle cx="59.9" cy="248.4" r="1.8"/><circle cx="56.4" cy="256.2" r="1.8"/><circle cx="71.4" cy="213.0" r="1.8"/><circle cx="65.8" cy="216.2" r="1.8"/><circle cx="72.9" cy="223.6" r="1.8"/><circle cx="68.1" cy="213.1" r="1.8"/><circle cx="65.0" cy="220.8" r="1.8"/><circle cx="71.6" cy="221.5" r="1.8"/><circle cx="65.0" cy="222.2" r="1.8"/><circle cx="74.0" cy="212.7" r="1.8"/><circle cx="73.9" cy="224.0" r="1.8"/><circle cx="66.8" cy="215.1" r="1.8"/><circle cx="63.0" cy="214.2" r="1.8"/><circle cx="74.6" cy="222.4" r="1.8"/><circle cx="74.0" cy="224.5" r="1.8"/><circle cx="69.8" cy="228.5" r="1.8"/><circle cx="67.4" cy="221.6" r="1.8"/><circle cx="74.3" cy="222.7" r="1.8"/><circle cx="74.8" cy="222.0" r="1.8"/><circle cx="72.4" cy="213.4" r="1.8"/><circle cx="85.9" cy="218.3" r="1.8"/><circle cx="92.9" cy="222.3" r="1.8"/><circle cx="90.0" cy="218.7" r="1.8"/><circle cx="84.3" cy="217.9" r="1.8"/><circle cx="89.0" cy="223.0" r="1.8"/><circle cx="91.3" cy="221.8" r="1.8"/><circle cx="89.8" cy="214.8" r="1.8"/><circle cx="95.3" cy="222.6" r="1.8"/><circle cx="89.0" cy="213.8" r="1.8"/><circle cx="90.8" cy="218.7" r="1.8"/><circle cx="94.3" cy="219.9" r="1.8"/><circle cx="90.8" cy="219.6" r="1.8"/><circle cx="89.0" cy="213.2" r="1.8"/><circle cx="95.2" cy="216.2" r="1.8"/></g>
<g fill="#1f63a0" fill-opacity="0.66" stroke="#1f63a0" stroke-opacity="0.72" stroke-width="0.9"><circle cx="48.8" cy="220.2" r="1.8"/><circle cx="50.1" cy="222.2" r="1.8"/><circle cx="51.4" cy="223.5" r="1.8"/><circle cx="63.2" cy="217.6" r="1.8"/><circle cx="65.1" cy="220.2" r="1.8"/><circle cx="67.1" cy="216.3" r="1.8"/><circle cx="69.7" cy="217.6" r="1.8"/><circle cx="72.3" cy="216.3" r="1.8"/><circle cx="74.2" cy="215.7" r="1.8"/><circle cx="67.1" cy="222.8" r="1.8"/><circle cx="65.8" cy="225.4" r="1.8"/><circle cx="68.4" cy="226.7" r="1.8"/><circle cx="71.0" cy="224.8" r="1.8"/><circle cx="72.9" cy="222.8" r="1.8"/><circle cx="74.9" cy="224.1" r="1.8"/><circle cx="69.7" cy="220.9" r="1.8"/><circle cx="79.4" cy="218.9" r="1.8"/><circle cx="81.4" cy="221.5" r="1.8"/><circle cx="80.1" cy="224.1" r="1.8"/><circle cx="78.1" cy="226.7" r="1.8"/><circle cx="82.7" cy="226.1" r="1.8"/><circle cx="85.3" cy="228.7" r="1.8"/><circle cx="85.3" cy="216.3" r="1.8"/><circle cx="87.3" cy="218.9" r="1.8"/><circle cx="84.0" cy="222.8" r="1.8"/><circle cx="76.8" cy="220.9" r="1.8"/><circle cx="79.4" cy="228.0" r="1.8"/><circle cx="64.5" cy="224.8" r="1.8"/><circle cx="52.7" cy="235.8" r="1.8"/><circle cx="55.4" cy="235.2" r="1.8"/><circle cx="58.0" cy="236.5" r="1.8"/><circle cx="60.6" cy="234.5" r="1.8"/><circle cx="63.2" cy="233.9" r="1.8"/><circle cx="65.8" cy="233.2" r="1.8"/><circle cx="67.1" cy="231.9" r="1.8"/><circle cx="61.9" cy="237.1" r="1.8"/><circle cx="59.3" cy="239.1" r="1.8"/><circle cx="56.7" cy="240.4" r="1.8"/><circle cx="54.1" cy="238.4" r="1.8"/><circle cx="51.4" cy="239.7" r="1.8"/><circle cx="52.1" cy="242.4" r="1.8"/><circle cx="55.4" cy="243.0" r="1.8"/><circle cx="58.0" cy="242.4" r="1.8"/><circle cx="60.6" cy="241.7" r="1.8"/><circle cx="63.2" cy="240.4" r="1.8"/><circle cx="67.1" cy="238.4" r="1.8"/><circle cx="69.7" cy="237.8" r="1.8"/><circle cx="72.3" cy="235.8" r="1.8"/><circle cx="74.9" cy="235.2" r="1.8"/><circle cx="77.5" cy="234.5" r="1.8"/><circle cx="80.8" cy="233.9" r="1.8"/><circle cx="76.2" cy="231.3" r="1.8"/><circle cx="73.6" cy="231.9" r="1.8"/><circle cx="71.0" cy="234.5" r="1.8"/><circle cx="68.4" cy="241.1" r="1.8"/><circle cx="67.1" cy="243.0" r="1.8"/><circle cx="65.8" cy="246.9" r="1.8"/><circle cx="64.5" cy="248.9" r="1.8"/><circle cx="65.8" cy="250.8" r="1.8"/><circle cx="60.6" cy="245.6" r="1.8"/><circle cx="59.3" cy="248.9" r="1.8"/><circle cx="55.4" cy="246.3" r="1.8"/><circle cx="52.7" cy="245.6" r="1.8"/><circle cx="50.1" cy="246.3" r="1.8"/><circle cx="48.8" cy="244.3" r="1.8"/><circle cx="44.9" cy="243.7" r="1.8"/><circle cx="46.2" cy="249.5" r="1.8"/><circle cx="49.5" cy="249.5" r="1.8"/><circle cx="51.4" cy="250.8" r="1.8"/><circle cx="54.1" cy="250.2" r="1.8"/><circle cx="56.7" cy="249.5" r="1.8"/><circle cx="58.6" cy="251.5" r="1.8"/><circle cx="56.7" cy="254.1" r="1.8"/><circle cx="54.1" cy="254.7" r="1.8"/><circle cx="51.4" cy="252.8" r="1.8"/><circle cx="48.8" cy="254.1" r="1.8"/><circle cx="44.9" cy="254.1" r="1.8"/><circle cx="42.3" cy="254.1" r="1.8"/><circle cx="41.0" cy="256.7" r="1.8"/><circle cx="43.6" cy="258.0" r="1.8"/><circle cx="46.2" cy="258.6" r="1.8"/><circle cx="47.5" cy="260.6" r="1.8"/><circle cx="44.9" cy="260.6" r="1.8"/><circle cx="41.0" cy="259.9" r="1.8"/><circle cx="38.4" cy="260.6" r="1.8"/><circle cx="36.5" cy="258.6" r="1.8"/><circle cx="35.8" cy="263.8" r="1.8"/><circle cx="37.8" cy="265.1" r="1.8"/><circle cx="34.5" cy="263.8" r="1.8"/><circle cx="37.1" cy="267.8" r="1.8"/><circle cx="35.8" cy="269.7" r="1.8"/><circle cx="37.1" cy="271.0" r="1.8"/><circle cx="40.4" cy="267.1" r="1.8"/><circle cx="44.9" cy="265.8" r="1.8"/><circle cx="47.5" cy="267.8" r="1.8"/><circle cx="49.5" cy="268.4" r="1.8"/><circle cx="52.7" cy="263.2" r="1.8"/><circle cx="55.4" cy="263.8" r="1.8"/><circle cx="54.1" cy="261.2" r="1.8"/><circle cx="56.7" cy="260.6" r="1.8"/><circle cx="54.1" cy="258.6" r="1.8"/><circle cx="58.0" cy="256.7" r="1.8"/><circle cx="59.3" cy="254.1" r="1.8"/><circle cx="52.7" cy="256.7" r="1.8"/><circle cx="84.7" cy="241.1" r="1.8"/><circle cx="74.9" cy="245.0" r="1.8"/><circle cx="77.5" cy="245.6" r="1.8"/><circle cx="76.8" cy="247.6" r="1.8"/><circle cx="68.4" cy="254.1" r="1.8"/><circle cx="66.6" cy="201.8" r="1.8"/><circle cx="85.2" cy="203.6" r="1.8"/><circle cx="86.8" cy="204.0" r="1.8"/><circle cx="90.1" cy="204.2" r="1.8"/><circle cx="110.3" cy="202.5" r="1.8"/><circle cx="113.0" cy="202.0" r="1.8"/><circle cx="114.6" cy="200.0" r="1.8"/><circle cx="87.9" cy="212.9" r="1.8"/><circle cx="90.6" cy="212.4" r="1.8"/><circle cx="91.2" cy="214.5" r="1.8"/><circle cx="89.5" cy="215.6" r="1.8"/><circle cx="95.0" cy="213.5" r="1.8"/><circle cx="95.5" cy="217.8" r="1.8"/><circle cx="93.4" cy="219.5" r="1.8"/><circle cx="92.3" cy="217.3" r="1.8"/><circle cx="88.5" cy="217.3" r="1.8"/><circle cx="89.0" cy="221.6" r="1.8"/><circle cx="90.1" cy="223.8" r="1.8"/><circle cx="91.7" cy="220.5" r="1.8"/><circle cx="96.1" cy="222.2" r="1.8"/><circle cx="94.5" cy="221.1" r="1.8"/><circle cx="102.1" cy="225.1" r="1.8"/><circle cx="105.4" cy="221.6" r="1.8"/><circle cx="105.9" cy="224.7" r="1.8"/><circle cx="90.6" cy="229.3" r="1.8"/><circle cx="69.9" cy="213.5" r="1.8"/><circle cx="65.0" cy="209.6" r="1.8"/></g>
</g>
<g>
<path d="M207.5 267.0L207.0 259.0L211.8 247.4L218.8 235.6L228.2 223.8L237.6 212.0L247.0 200.3L256.5 188.5L262.0 184.5L272.0 183.5L278.0 185.0L277.6 188.5L270.6 200.3L265.9 212.0L258.8 223.8L256.5 235.6L247.0 247.4L237.6 259.1L228.0 266.0L216.0 268.5Z" fill="#1f63a0" fill-opacity="0.55"/>
<g fill="#1f63a0" fill-opacity="0.66" stroke="#1f63a0" stroke-opacity="0.72" stroke-width="0.9"><circle cx="223.1" cy="266.4" r="1.8"/><circle cx="216.0" cy="242.5" r="1.8"/><circle cx="252.6" cy="222.5" r="1.8"/><circle cx="239.2" cy="225.6" r="1.8"/><circle cx="220.6" cy="252.0" r="1.8"/><circle cx="235.9" cy="261.6" r="1.8"/><circle cx="233.8" cy="238.2" r="1.8"/><circle cx="231.0" cy="242.3" r="1.8"/><circle cx="242.3" cy="238.1" r="1.8"/><circle cx="220.8" cy="261.6" r="1.8"/><circle cx="248.1" cy="247.5" r="1.8"/><circle cx="232.3" cy="257.0" r="1.8"/><circle cx="216.6" cy="247.2" r="1.8"/><circle cx="244.5" cy="226.8" r="1.8"/><circle cx="212.1" cy="260.3" r="1.8"/><circle cx="243.0" cy="243.1" r="1.8"/><circle cx="233.8" cy="251.9" r="1.8"/><circle cx="270.3" cy="199.6" r="1.8"/><circle cx="221.3" cy="248.7" r="1.8"/><circle cx="261.3" cy="214.0" r="1.8"/><circle cx="238.7" cy="219.0" r="1.8"/><circle cx="248.8" cy="209.4" r="1.8"/><circle cx="232.6" cy="251.9" r="1.8"/><circle cx="242.8" cy="242.9" r="1.8"/><circle cx="276.6" cy="190.1" r="1.8"/><circle cx="234.4" cy="232.9" r="1.8"/><circle cx="259.8" cy="214.3" r="1.8"/><circle cx="266.3" cy="199.8" r="1.8"/><circle cx="269.1" cy="186.3" r="1.8"/><circle cx="219.6" cy="266.5" r="1.8"/><circle cx="250.0" cy="223.7" r="1.8"/><circle cx="238.2" cy="247.6" r="1.8"/><circle cx="257.8" cy="223.4" r="1.8"/><circle cx="232.9" cy="220.3" r="1.8"/><circle cx="213.6" cy="265.8" r="1.8"/><circle cx="257.1" cy="199.8" r="1.8"/><circle cx="262.6" cy="209.2" r="1.8"/><circle cx="267.0" cy="199.6" r="1.8"/><circle cx="227.6" cy="237.9" r="1.8"/><circle cx="232.7" cy="218.9" r="1.8"/><circle cx="241.8" cy="228.5" r="1.8"/><circle cx="266.5" cy="206.4" r="1.8"/><circle cx="215.3" cy="252.1" r="1.8"/><circle cx="226.7" cy="256.6" r="1.8"/><circle cx="236.2" cy="214.0" r="1.8"/><circle cx="260.1" cy="204.3" r="1.8"/><circle cx="234.5" cy="237.9" r="1.8"/><circle cx="255.6" cy="190.5" r="1.8"/><circle cx="253.4" cy="213.9" r="1.8"/><circle cx="258.2" cy="214.3" r="1.8"/><circle cx="234.6" cy="218.9" r="1.8"/><circle cx="262.5" cy="190.3" r="1.8"/><circle cx="219.5" cy="247.4" r="1.8"/><circle cx="246.5" cy="247.5" r="1.8"/><circle cx="230.2" cy="256.9" r="1.8"/><circle cx="261.1" cy="190.3" r="1.8"/><circle cx="250.6" cy="218.8" r="1.8"/><circle cx="241.8" cy="213.8" r="1.8"/><circle cx="228.9" cy="242.7" r="1.8"/><circle cx="253.0" cy="194.8" r="1.8"/><circle cx="231.6" cy="242.6" r="1.8"/><circle cx="251.1" cy="195.7" r="1.8"/><circle cx="255.9" cy="190.3" r="1.8"/><circle cx="216.0" cy="266.5" r="1.8"/><circle cx="237.2" cy="238.0" r="1.8"/><circle cx="249.7" cy="239.3" r="1.8"/><circle cx="217.0" cy="242.6" r="1.8"/><circle cx="246.9" cy="209.6" r="1.8"/><circle cx="248.5" cy="204.4" r="1.8"/><circle cx="266.7" cy="209.4" r="1.8"/><circle cx="251.7" cy="223.7" r="1.8"/><circle cx="253.4" cy="212.5" r="1.8"/><circle cx="232.7" cy="233.3" r="1.8"/><circle cx="239.4" cy="223.5" r="1.8"/><circle cx="234.2" cy="228.6" r="1.8"/><circle cx="257.4" cy="200.0" r="1.8"/><circle cx="217.4" cy="252.4" r="1.8"/><circle cx="213.3" cy="250.9" r="1.8"/><circle cx="260.9" cy="202.0" r="1.8"/><circle cx="252.2" cy="205.0" r="1.8"/><circle cx="269.6" cy="199.9" r="1.8"/><circle cx="258.0" cy="199.9" r="1.8"/><circle cx="247.9" cy="238.0" r="1.8"/><circle cx="230.4" cy="256.8" r="1.8"/><circle cx="254.2" cy="213.9" r="1.8"/><circle cx="249.4" cy="237.6" r="1.8"/><circle cx="225.0" cy="242.5" r="1.8"/><circle cx="256.4" cy="202.7" r="1.8"/><circle cx="235.2" cy="242.8" r="1.8"/><circle cx="225.7" cy="228.4" r="1.8"/><circle cx="249.8" cy="218.9" r="1.8"/><circle cx="221.8" cy="242.5" r="1.8"/><circle cx="256.8" cy="199.9" r="1.8"/><circle cx="242.1" cy="242.5" r="1.8"/><circle cx="229.3" cy="238.1" r="1.8"/><circle cx="250.8" cy="235.9" r="1.8"/><circle cx="222.7" cy="242.4" r="1.8"/><circle cx="249.4" cy="199.6" r="1.8"/><circle cx="255.8" cy="233.0" r="1.8"/><circle cx="223.8" cy="233.3" r="1.8"/><circle cx="235.3" cy="247.3" r="1.8"/><circle cx="238.7" cy="233.1" r="1.8"/><circle cx="241.6" cy="228.2" r="1.8"/><circle cx="221.2" cy="247.3" r="1.8"/><circle cx="242.5" cy="214.1" r="1.8"/><circle cx="241.4" cy="233.1" r="1.8"/><circle cx="229.2" cy="223.7" r="1.8"/><circle cx="240.9" cy="223.8" r="1.8"/><circle cx="245.4" cy="238.1" r="1.8"/><circle cx="256.0" cy="227.2" r="1.8"/><circle cx="243.1" cy="217.6" r="1.8"/><circle cx="238.9" cy="223.4" r="1.8"/><circle cx="264.0" cy="197.1" r="1.8"/><circle cx="215.4" cy="262.0" r="1.8"/><circle cx="243.2" cy="242.5" r="1.8"/><circle cx="251.3" cy="223.8" r="1.8"/><circle cx="232.4" cy="228.2" r="1.8"/><circle cx="255.2" cy="232.9" r="1.8"/><circle cx="226.5" cy="261.9" r="1.8"/><circle cx="246.2" cy="244.2" r="1.8"/><circle cx="255.9" cy="219.0" r="1.8"/><circle cx="256.8" cy="199.6" r="1.8"/><circle cx="245.9" cy="237.9" r="1.8"/><circle cx="251.7" cy="209.6" r="1.8"/><circle cx="241.5" cy="231.8" r="1.8"/><circle cx="257.1" cy="218.7" r="1.8"/><circle cx="261.5" cy="186.0" r="1.8"/><circle cx="243.7" cy="233.1" r="1.8"/><circle cx="248.4" cy="221.2" r="1.8"/><circle cx="241.5" cy="231.7" r="1.8"/><circle cx="214.1" cy="255.3" r="1.8"/><circle cx="238.8" cy="213.8" r="1.8"/><circle cx="243.9" cy="242.4" r="1.8"/><circle cx="240.4" cy="242.9" r="1.8"/><circle cx="246.8" cy="238.0" r="1.8"/><circle cx="272.3" cy="194.8" r="1.8"/><circle cx="232.9" cy="252.4" r="1.8"/><circle cx="242.9" cy="231.3" r="1.8"/><circle cx="267.3" cy="195.3" r="1.8"/><circle cx="242.3" cy="214.0" r="1.8"/><circle cx="258.9" cy="209.4" r="1.8"/><circle cx="246.7" cy="237.7" r="1.8"/><circle cx="253.2" cy="219.7" r="1.8"/><circle cx="251.6" cy="238.0" r="1.8"/><circle cx="258.3" cy="190.6" r="1.8"/><circle cx="216.7" cy="252.4" r="1.8"/><circle cx="232.7" cy="258.6" r="1.8"/><circle cx="226.9" cy="237.9" r="1.8"/><circle cx="261.2" cy="194.9" r="1.8"/><circle cx="251.6" cy="209.1" r="1.8"/><circle cx="228.5" cy="259.2" r="1.8"/><circle cx="251.5" cy="228.5" r="1.8"/><circle cx="269.8" cy="195.3" r="1.8"/><circle cx="256.7" cy="228.6" r="1.8"/><circle cx="230.7" cy="261.6" r="1.8"/><circle cx="247.1" cy="199.5" r="1.8"/><circle cx="241.9" cy="247.7" r="1.8"/><circle cx="229.9" cy="256.7" r="1.8"/><circle cx="242.4" cy="214.0" r="1.8"/><circle cx="246.9" cy="219.1" r="1.8"/><circle cx="230.9" cy="228.4" r="1.8"/><circle cx="268.2" cy="204.5" r="1.8"/><circle cx="219.0" cy="247.2" r="1.8"/><circle cx="260.6" cy="200.0" r="1.8"/><circle cx="234.0" cy="228.5" r="1.8"/><circle cx="212.6" cy="256.0" r="1.8"/><circle cx="250.3" cy="228.6" r="1.8"/><circle cx="226.0" cy="256.9" r="1.8"/><circle cx="227.3" cy="247.6" r="1.8"/><circle cx="216.7" cy="266.2" r="1.8"/><circle cx="254.2" cy="214.1" r="1.8"/><circle cx="254.9" cy="213.9" r="1.8"/><circle cx="259.5" cy="218.7" r="1.8"/><circle cx="237.4" cy="257.0" r="1.8"/><circle cx="253.3" cy="202.9" r="1.8"/><circle cx="214.5" cy="257.2" r="1.8"/><circle cx="249.3" cy="199.9" r="1.8"/><circle cx="238.4" cy="256.6" r="1.8"/><circle cx="210.6" cy="261.8" r="1.8"/><circle cx="246.2" cy="204.3" r="1.8"/><circle cx="215.1" cy="242.6" r="1.8"/><circle cx="258.1" cy="214.0" r="1.8"/><circle cx="241.7" cy="223.5" r="1.8"/><circle cx="234.9" cy="215.8" r="1.8"/><circle cx="238.9" cy="247.6" r="1.8"/><circle cx="245.0" cy="232.9" r="1.8"/><circle cx="263.7" cy="186.3" r="1.8"/><circle cx="246.8" cy="209.5" r="1.8"/><circle cx="238.9" cy="257.2" r="1.8"/><circle cx="258.6" cy="195.0" r="1.8"/><circle cx="258.4" cy="200.1" r="1.8"/><circle cx="269.6" cy="199.6" r="1.8"/><circle cx="248.5" cy="242.8" r="1.8"/><circle cx="228.7" cy="237.7" r="1.8"/><circle cx="239.1" cy="218.9" r="1.8"/><circle cx="220.0" cy="261.7" r="1.8"/><circle cx="252.1" cy="194.8" r="1.8"/><circle cx="254.0" cy="194.8" r="1.8"/><circle cx="240.4" cy="247.2" r="1.8"/><circle cx="240.4" cy="233.1" r="1.8"/><circle cx="251.1" cy="223.5" r="1.8"/><circle cx="247.2" cy="242.6" r="1.8"/><circle cx="236.9" cy="228.4" r="1.8"/><circle cx="240.0" cy="235.6" r="1.8"/><circle cx="261.2" cy="190.0" r="1.8"/><circle cx="254.4" cy="199.8" r="1.8"/><circle cx="218.0" cy="242.4" r="1.8"/><circle cx="247.4" cy="218.8" r="1.8"/><circle cx="244.0" cy="209.2" r="1.8"/><circle cx="256.1" cy="194.9" r="1.8"/><circle cx="271.7" cy="195.0" r="1.8"/><circle cx="240.2" cy="228.1" r="1.8"/><circle cx="257.7" cy="213.9" r="1.8"/><circle cx="241.9" cy="228.1" r="1.8"/><circle cx="260.2" cy="195.2" r="1.8"/><circle cx="222.8" cy="243.8" r="1.8"/><circle cx="249.2" cy="209.4" r="1.8"/><circle cx="272.5" cy="196.4" r="1.8"/><circle cx="246.8" cy="247.4" r="1.8"/><circle cx="237.5" cy="242.7" r="1.8"/><circle cx="222.2" cy="242.7" r="1.8"/><circle cx="207.9" cy="266.3" r="1.8"/><circle cx="241.4" cy="219.0" r="1.8"/><circle cx="240.8" cy="214.3" r="1.8"/><circle cx="244.4" cy="247.5" r="1.8"/><circle cx="217.0" cy="266.3" r="1.8"/><circle cx="245.2" cy="208.1" r="1.8"/><circle cx="223.9" cy="266.5" r="1.8"/><circle cx="250.2" cy="228.4" r="1.8"/><circle cx="256.8" cy="214.3" r="1.8"/><circle cx="231.8" cy="228.2" r="1.8"/><circle cx="274.5" cy="191.7" r="1.8"/><circle cx="231.6" cy="238.0" r="1.8"/><circle cx="214.5" cy="266.4" r="1.8"/><circle cx="254.3" cy="204.6" r="1.8"/><circle cx="245.2" cy="218.7" r="1.8"/><circle cx="268.4" cy="204.7" r="1.8"/><circle cx="244.2" cy="233.4" r="1.8"/><circle cx="228.8" cy="252.0" r="1.8"/><circle cx="227.4" cy="228.3" r="1.8"/><circle cx="259.2" cy="215.9" r="1.8"/><circle cx="239.1" cy="209.3" r="1.8"/><circle cx="244.4" cy="219.1" r="1.8"/><circle cx="232.9" cy="261.6" r="1.8"/><circle cx="250.2" cy="239.8" r="1.8"/><circle cx="225.4" cy="247.3" r="1.8"/><circle cx="250.8" cy="228.1" r="1.8"/><circle cx="262.9" cy="199.6" r="1.8"/><circle cx="229.0" cy="250.0" r="1.8"/><circle cx="250.5" cy="217.7" r="1.8"/><circle cx="219.4" cy="266.5" r="1.8"/><circle cx="214.0" cy="256.8" r="1.8"/><circle cx="260.9" cy="199.7" r="1.8"/><circle cx="264.2" cy="185.3" r="1.8"/><circle cx="259.4" cy="209.3" r="1.8"/><circle cx="228.2" cy="242.5" r="1.8"/><circle cx="256.2" cy="209.5" r="1.8"/><circle cx="253.8" cy="228.5" r="1.8"/><circle cx="218.6" cy="242.9" r="1.8"/><circle cx="216.0" cy="256.7" r="1.8"/><circle cx="268.3" cy="185.7" r="1.8"/><circle cx="250.6" cy="238.0" r="1.8"/><circle cx="229.1" cy="259.6" r="1.8"/><circle cx="245.3" cy="204.8" r="1.8"/><circle cx="261.2" cy="202.4" r="1.8"/><circle cx="225.2" cy="238.0" r="1.8"/><circle cx="255.2" cy="219.9" r="1.8"/><circle cx="217.4" cy="247.2" r="1.8"/><circle cx="274.2" cy="185.5" r="1.8"/><circle cx="249.1" cy="224.2" r="1.8"/><circle cx="266.9" cy="204.3" r="1.8"/><circle cx="244.7" cy="252.0" r="1.8"/><circle cx="233.4" cy="247.2" r="1.8"/><circle cx="226.4" cy="242.7" r="1.8"/><circle cx="277.1" cy="185.5" r="1.8"/><circle cx="246.9" cy="242.4" r="1.8"/><circle cx="216.0" cy="256.9" r="1.8"/><circle cx="221.0" cy="249.9" r="1.8"/><circle cx="235.1" cy="227.3" r="1.8"/><circle cx="229.1" cy="242.8" r="1.8"/><circle cx="229.0" cy="247.6" r="1.8"/><circle cx="239.9" cy="233.3" r="1.8"/><circle cx="228.0" cy="242.4" r="1.8"/><circle cx="272.6" cy="195.3" r="1.8"/><circle cx="239.6" cy="247.3" r="1.8"/><circle cx="222.8" cy="251.9" r="1.8"/><circle cx="273.7" cy="191.0" r="1.8"/><circle cx="219.8" cy="247.5" r="1.8"/><circle cx="272.2" cy="184.4" r="1.8"/><circle cx="245.6" cy="209.6" r="1.8"/><circle cx="237.9" cy="226.2" r="1.8"/><circle cx="261.5" cy="190.7" r="1.8"/><circle cx="237.2" cy="213.8" r="1.8"/><circle cx="224.1" cy="261.4" r="1.8"/><circle cx="258.9" cy="201.7" r="1.8"/><circle cx="246.9" cy="242.8" r="1.8"/><circle cx="239.1" cy="256.8" r="1.8"/><circle cx="256.9" cy="223.6" r="1.8"/><circle cx="233.4" cy="247.4" r="1.8"/><circle cx="249.9" cy="218.7" r="1.8"/><circle cx="267.7" cy="204.8" r="1.8"/><circle cx="233.0" cy="247.1" r="1.8"/><circle cx="243.9" cy="218.9" r="1.8"/><circle cx="245.7" cy="213.3" r="1.8"/><circle cx="253.8" cy="204.4" r="1.8"/><circle cx="266.9" cy="190.1" r="1.8"/><circle cx="223.7" cy="237.9" r="1.8"/><circle cx="228.2" cy="261.7" r="1.8"/><circle cx="248.5" cy="206.3" r="1.8"/><circle cx="258.5" cy="209.1" r="1.8"/><circle cx="236.9" cy="232.3" r="1.8"/><circle cx="215.3" cy="261.9" r="1.8"/><circle cx="240.3" cy="252.2" r="1.8"/><circle cx="250.4" cy="218.7" r="1.8"/><circle cx="217.5" cy="242.8" r="1.8"/><circle cx="256.2" cy="223.5" r="1.8"/><circle cx="247.0" cy="238.0" r="1.8"/><circle cx="244.6" cy="218.6" r="1.8"/><circle cx="246.2" cy="218.9" r="1.8"/><circle cx="218.0" cy="256.8" r="1.8"/><circle cx="248.1" cy="209.6" r="1.8"/><circle cx="226.7" cy="228.5" r="1.8"/><circle cx="262.3" cy="185.6" r="1.8"/><circle cx="253.6" cy="232.8" r="1.8"/><circle cx="269.2" cy="190.3" r="1.8"/><circle cx="233.9" cy="251.9" r="1.8"/><circle cx="258.2" cy="190.4" r="1.8"/><circle cx="227.1" cy="228.5" r="1.8"/><circle cx="254.3" cy="223.4" r="1.8"/><circle cx="243.6" cy="218.9" r="1.8"/><circle cx="269.9" cy="185.4" r="1.8"/><circle cx="248.2" cy="208.2" r="1.8"/><circle cx="227.3" cy="261.8" r="1.8"/><circle cx="225.8" cy="257.1" r="1.8"/><circle cx="207.3" cy="261.7" r="1.8"/><circle cx="245.2" cy="204.5" r="1.8"/><circle cx="220.3" cy="243.2" r="1.8"/><circle cx="215.0" cy="247.7" r="1.8"/><circle cx="237.5" cy="225.2" r="1.8"/><circle cx="222.5" cy="233.4" r="1.8"/><circle cx="266.3" cy="209.6" r="1.8"/><circle cx="250.6" cy="233.4" r="1.8"/><circle cx="236.1" cy="247.5" r="1.8"/><circle cx="209.0" cy="261.2" r="1.8"/><circle cx="253.3" cy="223.5" r="1.8"/><circle cx="256.9" cy="199.6" r="1.8"/><circle cx="241.1" cy="228.5" r="1.8"/><circle cx="270.7" cy="195.0" r="1.8"/><circle cx="226.1" cy="237.8" r="1.8"/><circle cx="225.1" cy="252.3" r="1.8"/><circle cx="216.7" cy="253.0" r="1.8"/><circle cx="227.3" cy="252.3" r="1.8"/><circle cx="232.8" cy="227.1" r="1.8"/><circle cx="218.2" cy="261.3" r="1.8"/><circle cx="264.8" cy="197.5" r="1.8"/><circle cx="232.1" cy="261.8" r="1.8"/><circle cx="221.4" cy="256.9" r="1.8"/><circle cx="217.6" cy="258.6" r="1.8"/><circle cx="264.6" cy="190.4" r="1.8"/><circle cx="237.7" cy="223.6" r="1.8"/><circle cx="275.4" cy="190.5" r="1.8"/><circle cx="232.1" cy="232.0" r="1.8"/><circle cx="249.4" cy="228.6" r="1.8"/><circle cx="247.1" cy="220.4" r="1.8"/><circle cx="236.4" cy="214.3" r="1.8"/><circle cx="271.9" cy="190.0" r="1.8"/><circle cx="248.9" cy="219.1" r="1.8"/><circle cx="230.4" cy="257.1" r="1.8"/><circle cx="260.2" cy="209.3" r="1.8"/><circle cx="250.3" cy="199.8" r="1.8"/><circle cx="269.2" cy="190.0" r="1.8"/><circle cx="241.9" cy="214.2" r="1.8"/><circle cx="247.7" cy="233.0" r="1.8"/><circle cx="227.3" cy="233.3" r="1.8"/><circle cx="214.8" cy="257.1" r="1.8"/><circle cx="256.6" cy="195.3" r="1.8"/><circle cx="268.3" cy="200.0" r="1.8"/><circle cx="253.7" cy="220.1" r="1.8"/><circle cx="231.4" cy="223.9" r="1.8"/><circle cx="220.7" cy="254.7" r="1.8"/><circle cx="213.6" cy="266.2" r="1.8"/><circle cx="259.4" cy="185.6" r="1.8"/><circle cx="226.8" cy="233.2" r="1.8"/><circle cx="226.7" cy="247.4" r="1.8"/><circle cx="237.6" cy="251.9" r="1.8"/><circle cx="238.3" cy="237.8" r="1.8"/><circle cx="239.3" cy="238.1" r="1.8"/><circle cx="235.4" cy="223.7" r="1.8"/><circle cx="219.9" cy="247.3" r="1.8"/><circle cx="238.0" cy="249.3" r="1.8"/><circle cx="266.2" cy="199.5" r="1.8"/><circle cx="230.5" cy="247.6" r="1.8"/><circle cx="241.1" cy="233.2" r="1.8"/><circle cx="243.2" cy="218.9" r="1.8"/><circle cx="260.9" cy="199.9" r="1.8"/><circle cx="228.2" cy="233.0" r="1.8"/><circle cx="211.7" cy="252.0" r="1.8"/><circle cx="258.5" cy="194.6" r="1.8"/><circle cx="241.0" cy="214.0" r="1.8"/><circle cx="255.8" cy="189.9" r="1.8"/><circle cx="261.4" cy="209.2" r="1.8"/><circle cx="265.5" cy="185.5" r="1.8"/><circle cx="264.3" cy="199.7" r="1.8"/><circle cx="240.5" cy="242.7" r="1.8"/><circle cx="231.6" cy="261.4" r="1.8"/><circle cx="220.6" cy="255.2" r="1.8"/><circle cx="249.8" cy="216.0" r="1.8"/><circle cx="235.8" cy="233.4" r="1.8"/><circle cx="254.0" cy="200.1" r="1.8"/><circle cx="231.7" cy="257.0" r="1.8"/><circle cx="264.4" cy="209.5" r="1.8"/><circle cx="258.7" cy="218.9" r="1.8"/><circle cx="223.6" cy="232.9" r="1.8"/><circle cx="234.4" cy="257.2" r="1.8"/><circle cx="247.0" cy="200.8" r="1.8"/><circle cx="247.3" cy="233.4" r="1.8"/><circle cx="247.9" cy="238.0" r="1.8"/><circle cx="252.9" cy="228.0" r="1.8"/><circle cx="221.0" cy="240.6" r="1.8"/><circle cx="220.5" cy="261.8" r="1.8"/><circle cx="250.6" cy="233.3" r="1.8"/><circle cx="251.5" cy="204.6" r="1.8"/><circle cx="234.2" cy="247.5" r="1.8"/><circle cx="250.0" cy="233.1" r="1.8"/><circle cx="217.1" cy="256.8" r="1.8"/><circle cx="244.8" cy="247.1" r="1.8"/><circle cx="234.8" cy="242.6" r="1.8"/><circle cx="208.8" cy="260.9" r="1.8"/><circle cx="220.1" cy="238.1" r="1.8"/><circle cx="240.0" cy="223.8" r="1.8"/><circle cx="240.4" cy="228.4" r="1.8"/><circle cx="264.8" cy="190.5" r="1.8"/><circle cx="231.5" cy="248.4" r="1.8"/><circle cx="263.1" cy="214.0" r="1.8"/><circle cx="269.4" cy="190.2" r="1.8"/><circle cx="230.0" cy="223.8" r="1.8"/><circle cx="221.0" cy="237.7" r="1.8"/><circle cx="208.3" cy="261.5" r="1.8"/><circle cx="260.4" cy="200.5" r="1.8"/><circle cx="221.6" cy="261.7" r="1.8"/><circle cx="242.6" cy="237.8" r="1.8"/><circle cx="224.5" cy="238.1" r="1.8"/><circle cx="250.6" cy="219.0" r="1.8"/><circle cx="239.3" cy="213.8" r="1.8"/><circle cx="228.3" cy="248.0" r="1.8"/><circle cx="248.9" cy="204.3" r="1.8"/><circle cx="247.2" cy="211.2" r="1.8"/><circle cx="260.9" cy="218.6" r="1.8"/><circle cx="249.0" cy="228.4" r="1.8"/><circle cx="212.7" cy="253.2" r="1.8"/><circle cx="251.0" cy="213.9" r="1.8"/><circle cx="231.0" cy="252.4" r="1.8"/><circle cx="234.4" cy="258.9" r="1.8"/><circle cx="236.2" cy="223.7" r="1.8"/><circle cx="249.6" cy="214.4" r="1.8"/><circle cx="239.4" cy="233.2" r="1.8"/><circle cx="247.6" cy="225.4" r="1.8"/><circle cx="215.9" cy="252.5" r="1.8"/><circle cx="240.7" cy="242.7" r="1.8"/><circle cx="249.7" cy="206.1" r="1.8"/><circle cx="242.4" cy="214.3" r="1.8"/><circle cx="255.3" cy="218.1" r="1.8"/><circle cx="239.5" cy="209.4" r="1.8"/><circle cx="243.8" cy="247.2" r="1.8"/><circle cx="221.2" cy="233.3" r="1.8"/><circle cx="238.1" cy="237.8" r="1.8"/><circle cx="218.3" cy="252.2" r="1.8"/><circle cx="262.0" cy="214.3" r="1.8"/><circle cx="235.8" cy="216.3" r="1.8"/><circle cx="229.1" cy="242.4" r="1.8"/><circle cx="260.0" cy="209.2" r="1.8"/><circle cx="253.7" cy="195.0" r="1.8"/><circle cx="228.1" cy="242.9" r="1.8"/><circle cx="250.0" cy="228.1" r="1.8"/><circle cx="230.4" cy="223.7" r="1.8"/><circle cx="230.1" cy="252.0" r="1.8"/><circle cx="247.8" cy="231.9" r="1.8"/><circle cx="238.2" cy="256.7" r="1.8"/><circle cx="251.0" cy="233.2" r="1.8"/><circle cx="234.9" cy="227.9" r="1.8"/><circle cx="266.2" cy="195.2" r="1.8"/><circle cx="209.9" cy="266.3" r="1.8"/><circle cx="257.8" cy="203.0" r="1.8"/><circle cx="233.8" cy="228.5" r="1.8"/><circle cx="254.4" cy="223.8" r="1.8"/><circle cx="253.5" cy="213.8" r="1.8"/><circle cx="257.6" cy="204.5" r="1.8"/><circle cx="236.4" cy="223.4" r="1.8"/><circle cx="231.4" cy="250.2" r="1.8"/><circle cx="258.6" cy="200.1" r="1.8"/><circle cx="248.3" cy="233.3" r="1.8"/><circle cx="262.5" cy="199.5" r="1.8"/><circle cx="252.4" cy="209.3" r="1.8"/><circle cx="258.0" cy="204.8" r="1.8"/><circle cx="240.2" cy="238.1" r="1.8"/><circle cx="245.6" cy="209.5" r="1.8"/><circle cx="237.2" cy="237.9" r="1.8"/><circle cx="251.0" cy="218.9" r="1.8"/><circle cx="232.7" cy="223.5" r="1.8"/><circle cx="217.3" cy="257.0" r="1.8"/><circle cx="235.3" cy="256.8" r="1.8"/><circle cx="240.6" cy="209.5" r="1.8"/><circle cx="234.8" cy="257.1" r="1.8"/><circle cx="233.0" cy="218.6" r="1.8"/><circle cx="210.1" cy="257.2" r="1.8"/><circle cx="216.7" cy="266.3" r="1.8"/><circle cx="245.3" cy="223.9" r="1.8"/><circle cx="265.3" cy="190.2" r="1.8"/><circle cx="251.3" cy="214.2" r="1.8"/><circle cx="221.8" cy="264.7" r="1.8"/><circle cx="223.6" cy="233.4" r="1.8"/><circle cx="222.6" cy="233.3" r="1.8"/><circle cx="208.2" cy="261.4" r="1.8"/><circle cx="207.8" cy="261.9" r="1.8"/><circle cx="228.3" cy="233.0" r="1.8"/><circle cx="247.2" cy="209.4" r="1.8"/><circle cx="267.6" cy="209.6" r="1.8"/><circle cx="261.5" cy="204.7" r="1.8"/><circle cx="255.2" cy="200.0" r="1.8"/><circle cx="239.8" cy="247.7" r="1.8"/><circle cx="227.9" cy="258.1" r="1.8"/><circle cx="249.7" cy="204.8" r="1.8"/><circle cx="255.7" cy="209.2" r="1.8"/><circle cx="249.7" cy="213.6" r="1.8"/><circle cx="236.1" cy="218.8" r="1.8"/><circle cx="247.7" cy="242.7" r="1.8"/><circle cx="216.8" cy="262.5" r="1.8"/><circle cx="242.7" cy="223.9" r="1.8"/><circle cx="260.5" cy="190.1" r="1.8"/><circle cx="264.5" cy="199.9" r="1.8"/><circle cx="208.7" cy="266.5" r="1.8"/><circle cx="239.1" cy="247.1" r="1.8"/><circle cx="267.2" cy="195.0" r="1.8"/><circle cx="233.2" cy="228.2" r="1.8"/><circle cx="260.3" cy="186.5" r="1.8"/><circle cx="218.8" cy="256.7" r="1.8"/><circle cx="260.1" cy="204.8" r="1.8"/><circle cx="264.4" cy="200.8" r="1.8"/><circle cx="221.1" cy="251.9" r="1.8"/><circle cx="226.7" cy="228.1" r="1.8"/><circle cx="241.0" cy="237.6" r="1.8"/><circle cx="240.4" cy="233.3" r="1.8"/><circle cx="221.6" cy="257.2" r="1.8"/><circle cx="233.3" cy="233.3" r="1.8"/><circle cx="246.2" cy="204.7" r="1.8"/><circle cx="244.8" cy="204.3" r="1.8"/><circle cx="220.5" cy="252.6" r="1.8"/><circle cx="251.4" cy="228.7" r="1.8"/><circle cx="223.0" cy="247.3" r="1.8"/><circle cx="257.8" cy="209.4" r="1.8"/><circle cx="216.1" cy="242.5" r="1.8"/><circle cx="227.3" cy="242.4" r="1.8"/><circle cx="257.0" cy="228.3" r="1.8"/><circle cx="234.3" cy="252.1" r="1.8"/><circle cx="237.8" cy="247.4" r="1.8"/><circle cx="245.0" cy="223.8" r="1.8"/><circle cx="221.3" cy="247.1" r="1.8"/><circle cx="214.0" cy="242.8" r="1.8"/><circle cx="260.0" cy="212.9" r="1.8"/><circle cx="262.1" cy="195.3" r="1.8"/><circle cx="256.7" cy="185.5" r="1.8"/><circle cx="247.8" cy="214.3" r="1.8"/><circle cx="239.1" cy="256.9" r="1.8"/><circle cx="251.0" cy="215.4" r="1.8"/><circle cx="282.1" cy="180.8" r="1.8"/><circle cx="272.9" cy="204.3" r="1.8"/><circle cx="230.0" cy="252.3" r="1.8"/><circle cx="220.0" cy="233.3" r="1.8"/><circle cx="255.8" cy="213.9" r="1.8"/><circle cx="259.0" cy="218.9" r="1.8"/><circle cx="230.4" cy="233.0" r="1.8"/><circle cx="241.3" cy="204.7" r="1.8"/><circle cx="225.0" cy="233.3" r="1.8"/><circle cx="262.9" cy="204.4" r="1.8"/><circle cx="238.6" cy="247.5" r="1.8"/><circle cx="265.6" cy="232.9" r="1.8"/><circle cx="274.3" cy="209.2" r="1.8"/><circle cx="260.2" cy="233.3" r="1.8"/><circle cx="251.2" cy="219.1" r="1.8"/><circle cx="242.9" cy="240.3" r="1.8"/><circle cx="270.1" cy="204.5" r="1.8"/><circle cx="236.0" cy="242.4" r="1.8"/><circle cx="210.5" cy="252.4" r="1.8"/><circle cx="236.4" cy="261.7" r="1.8"/><circle cx="233.9" cy="261.7" r="1.8"/><circle cx="280.7" cy="192.5" r="1.8"/><circle cx="224.1" cy="223.3" r="1.8"/><circle cx="251.9" cy="204.6" r="1.8"/><circle cx="234.7" cy="232.9" r="1.8"/><circle cx="246.2" cy="238.1" r="1.8"/><circle cx="258.7" cy="185.5" r="1.8"/><circle cx="236.5" cy="213.8" r="1.8"/><circle cx="207.9" cy="261.5" r="1.8"/><circle cx="253.9" cy="190.6" r="1.8"/><circle cx="242.3" cy="223.6" r="1.8"/><circle cx="270.6" cy="194.8" r="1.8"/><circle cx="207.7" cy="266.7" r="1.8"/><circle cx="218.9" cy="250.3" r="1.8"/><circle cx="247.5" cy="252.3" r="1.8"/><circle cx="223.6" cy="226.6" r="1.8"/><circle cx="226.1" cy="242.7" r="1.8"/><circle cx="264.5" cy="223.5" r="1.8"/><circle cx="219.8" cy="252.2" r="1.8"/><circle cx="231.9" cy="253.0" r="1.8"/><circle cx="262.5" cy="195.0" r="1.8"/><circle cx="217.3" cy="255.4" r="1.8"/><circle cx="233.3" cy="228.3" r="1.8"/><circle cx="239.8" cy="262.0" r="1.8"/><circle cx="270.4" cy="199.5" r="1.8"/><circle cx="224.7" cy="233.0" r="1.8"/><circle cx="216.1" cy="261.7" r="1.8"/><circle cx="233.5" cy="218.8" r="1.8"/><circle cx="245.1" cy="228.1" r="1.8"/><circle cx="262.5" cy="228.1" r="1.8"/><circle cx="231.4" cy="226.7" r="1.8"/><circle cx="249.3" cy="252.3" r="1.8"/><circle cx="266.2" cy="225.7" r="1.8"/><circle cx="249.8" cy="247.5" r="1.8"/><circle cx="253.7" cy="223.8" r="1.8"/><circle cx="245.9" cy="242.5" r="1.8"/><circle cx="241.2" cy="228.1" r="1.8"/><circle cx="271.5" cy="190.2" r="1.8"/><circle cx="218.0" cy="245.1" r="1.8"/><circle cx="257.5" cy="190.4" r="1.8"/><circle cx="223.0" cy="266.7" r="1.8"/><circle cx="237.0" cy="223.3" r="1.8"/><circle cx="246.2" cy="210.0" r="1.8"/><circle cx="262.3" cy="181.0" r="1.8"/><circle cx="249.2" cy="219.5" r="1.8"/><circle cx="254.6" cy="228.1" r="1.8"/><circle cx="210.9" cy="271.0" r="1.8"/><circle cx="209.0" cy="252.2" r="1.8"/><circle cx="269.9" cy="202.6" r="1.8"/><circle cx="217.6" cy="261.5" r="1.8"/><circle cx="250.5" cy="242.4" r="1.8"/><circle cx="259.6" cy="218.9" r="1.8"/><circle cx="211.6" cy="266.2" r="1.8"/><circle cx="212.4" cy="257.1" r="1.8"/><circle cx="211.1" cy="258.7" r="1.8"/><circle cx="241.3" cy="209.6" r="1.8"/><circle cx="247.1" cy="199.9" r="1.8"/><circle cx="265.2" cy="205.5" r="1.8"/><circle cx="263.2" cy="229.7" r="1.8"/><circle cx="278.9" cy="190.1" r="1.8"/><circle cx="269.9" cy="218.9" r="1.8"/><circle cx="244.6" cy="257.0" r="1.8"/><circle cx="236.6" cy="223.8" r="1.8"/><circle cx="232.7" cy="256.6" r="1.8"/><circle cx="261.1" cy="237.9" r="1.8"/><circle cx="237.5" cy="209.3" r="1.8"/><circle cx="211.4" cy="247.4" r="1.8"/><circle cx="212.5" cy="256.7" r="1.8"/><circle cx="228.8" cy="219.1" r="1.8"/><circle cx="225.0" cy="266.7" r="1.8"/><circle cx="243.0" cy="225.3" r="1.8"/><circle cx="221.6" cy="223.6" r="1.8"/><circle cx="251.6" cy="228.6" r="1.8"/><circle cx="209.3" cy="257.0" r="1.8"/><circle cx="245.3" cy="256.8" r="1.8"/><circle cx="214.1" cy="257.1" r="1.8"/><circle cx="249.5" cy="238.0" r="1.8"/><circle cx="254.8" cy="242.6" r="1.8"/><circle cx="245.2" cy="228.1" r="1.8"/><circle cx="257.4" cy="185.5" r="1.8"/><circle cx="263.4" cy="202.0" r="1.8"/><circle cx="262.9" cy="200.0" r="1.8"/><circle cx="244.5" cy="214.2" r="1.8"/><circle cx="243.3" cy="242.1" r="1.8"/><circle cx="256.1" cy="185.6" r="1.8"/><circle cx="263.9" cy="204.7" r="1.8"/><circle cx="258.7" cy="204.3" r="1.8"/><circle cx="246.2" cy="223.7" r="1.8"/><circle cx="275.7" cy="194.8" r="1.8"/><circle cx="222.3" cy="266.4" r="1.8"/><circle cx="222.4" cy="232.8" r="1.8"/><circle cx="280.3" cy="190.8" r="1.8"/><circle cx="224.0" cy="261.9" r="1.8"/><circle cx="241.1" cy="204.8" r="1.8"/><circle cx="230.6" cy="257.2" r="1.8"/><circle cx="271.4" cy="189.7" r="1.8"/><circle cx="276.3" cy="205.5" r="1.8"/><circle cx="235.0" cy="214.0" r="1.8"/><circle cx="234.1" cy="219.0" r="1.8"/><circle cx="213.8" cy="256.8" r="1.8"/><circle cx="228.2" cy="266.2" r="1.8"/><circle cx="262.1" cy="183.1" r="1.8"/><circle cx="263.1" cy="220.4" r="1.8"/><circle cx="278.3" cy="190.4" r="1.8"/><circle cx="242.8" cy="209.3" r="1.8"/><circle cx="229.2" cy="247.5" r="1.8"/><circle cx="257.1" cy="204.4" r="1.8"/><circle cx="249.4" cy="213.9" r="1.8"/><circle cx="222.1" cy="262.0" r="1.8"/><circle cx="244.7" cy="199.6" r="1.8"/><circle cx="264.4" cy="216.9" r="1.8"/><circle cx="238.2" cy="228.2" r="1.8"/><circle cx="281.5" cy="190.2" r="1.8"/><circle cx="245.2" cy="237.7" r="1.8"/><circle cx="273.3" cy="199.7" r="1.8"/><circle cx="237.1" cy="219.0" r="1.8"/><circle cx="274.1" cy="180.5" r="1.8"/><circle cx="246.7" cy="241.9" r="1.8"/><circle cx="241.6" cy="229.8" r="1.8"/><circle cx="209.0" cy="251.3" r="1.8"/><circle cx="224.1" cy="264.1" r="1.8"/><circle cx="256.3" cy="206.8" r="1.8"/><circle cx="255.6" cy="243.5" r="1.8"/><circle cx="246.9" cy="233.0" r="1.8"/><circle cx="229.4" cy="223.7" r="1.8"/><circle cx="244.8" cy="242.6" r="1.8"/><circle cx="232.3" cy="217.6" r="1.8"/><circle cx="259.2" cy="194.9" r="1.8"/><circle cx="269.9" cy="199.8" r="1.8"/><circle cx="223.2" cy="247.5" r="1.8"/><circle cx="222.5" cy="271.0" r="1.8"/><circle cx="220.4" cy="266.3" r="1.8"/><circle cx="264.2" cy="180.8" r="1.8"/><circle cx="257.8" cy="214.2" r="1.8"/><circle cx="280.5" cy="190.1" r="1.8"/><circle cx="233.8" cy="256.8" r="1.8"/><circle cx="270.1" cy="218.9" r="1.8"/><circle cx="276.0" cy="181.3" r="1.8"/><circle cx="238.0" cy="254.0" r="1.8"/><circle cx="265.8" cy="180.6" r="1.8"/><circle cx="226.4" cy="247.3" r="1.8"/><circle cx="279.6" cy="180.8" r="1.8"/><circle cx="224.2" cy="223.8" r="1.8"/><circle cx="239.5" cy="223.8" r="1.8"/><circle cx="278.4" cy="194.8" r="1.8"/><circle cx="253.3" cy="209.2" r="1.8"/><circle cx="267.0" cy="185.3" r="1.8"/><circle cx="221.3" cy="247.7" r="1.8"/><circle cx="261.3" cy="218.6" r="1.8"/><circle cx="254.3" cy="242.4" r="1.8"/><circle cx="257.8" cy="189.8" r="1.8"/><circle cx="271.6" cy="205.8" r="1.8"/><circle cx="250.2" cy="214.0" r="1.8"/><circle cx="263.5" cy="197.0" r="1.8"/><circle cx="217.9" cy="261.5" r="1.8"/><circle cx="251.1" cy="209.2" r="1.8"/><circle cx="245.5" cy="199.7" r="1.8"/><circle cx="243.0" cy="256.7" r="1.8"/><circle cx="226.2" cy="252.4" r="1.8"/><circle cx="279.8" cy="190.0" r="1.8"/><circle cx="252.5" cy="237.6" r="1.8"/><circle cx="225.8" cy="233.4" r="1.8"/><circle cx="256.8" cy="195.3" r="1.8"/><circle cx="258.9" cy="195.7" r="1.8"/><circle cx="236.8" cy="228.2" r="1.8"/><circle cx="255.8" cy="185.6" r="1.8"/><circle cx="218.7" cy="242.5" r="1.8"/><circle cx="230.3" cy="233.0" r="1.8"/><circle cx="233.8" cy="218.9" r="1.8"/><circle cx="262.8" cy="197.4" r="1.8"/><circle cx="206.4" cy="261.5" r="1.8"/><circle cx="239.0" cy="254.8" r="1.8"/><circle cx="237.6" cy="261.4" r="1.8"/><circle cx="234.9" cy="223.4" r="1.8"/><circle cx="270.3" cy="195.3" r="1.8"/><circle cx="267.3" cy="199.6" r="1.8"/><circle cx="237.5" cy="256.9" r="1.8"/><circle cx="270.7" cy="195.5" r="1.8"/><circle cx="246.3" cy="214.2" r="1.8"/><circle cx="265.1" cy="182.0" r="1.8"/><circle cx="271.4" cy="190.3" r="1.8"/><circle cx="252.7" cy="228.6" r="1.8"/><circle cx="254.9" cy="209.3" r="1.8"/><circle cx="238.7" cy="233.4" r="1.8"/><circle cx="239.2" cy="238.1" r="1.8"/><circle cx="240.8" cy="219.3" r="1.8"/><circle cx="244.1" cy="199.7" r="1.8"/><circle cx="255.6" cy="186.1" r="1.8"/><circle cx="245.3" cy="213.6" r="1.8"/><circle cx="280.2" cy="191.2" r="1.8"/><circle cx="221.0" cy="271.2" r="1.8"/><circle cx="277.4" cy="193.9" r="1.8"/><circle cx="265.0" cy="195.2" r="1.8"/><circle cx="275.9" cy="204.1" r="1.8"/><circle cx="269.6" cy="190.0" r="1.8"/><circle cx="245.4" cy="208.2" r="1.8"/><circle cx="218.5" cy="266.3" r="1.8"/><circle cx="219.1" cy="251.5" r="1.8"/><circle cx="255.6" cy="213.9" r="1.8"/><circle cx="214.1" cy="270.9" r="1.8"/><circle cx="255.1" cy="214.3" r="1.8"/><circle cx="268.2" cy="204.8" r="1.8"/><circle cx="234.0" cy="247.2" r="1.8"/><circle cx="264.0" cy="180.8" r="1.8"/><circle cx="269.9" cy="199.9" r="1.8"/><circle cx="251.7" cy="237.9" r="1.8"/><circle cx="254.0" cy="218.7" r="1.8"/><circle cx="223.4" cy="232.8" r="1.8"/><circle cx="251.9" cy="197.5" r="1.8"/><circle cx="254.6" cy="223.5" r="1.8"/><circle cx="216.4" cy="265.6" r="1.8"/><circle cx="249.8" cy="209.2" r="1.8"/><circle cx="256.3" cy="218.7" r="1.8"/><circle cx="225.3" cy="262.5" r="1.8"/><circle cx="210.5" cy="251.9" r="1.8"/><circle cx="279.4" cy="191.7" r="1.8"/></g>
<g fill="#1f63a0" fill-opacity="0.66" stroke="#1f63a0" stroke-opacity="0.72" stroke-width="0.9"><circle cx="276.0" cy="175.6" r="1.8"/><circle cx="285.0" cy="175.6" r="1.8"/><circle cx="286.5" cy="179.0" r="1.8"/><circle cx="267.4" cy="180.1" r="1.8"/><circle cx="273.1" cy="181.2" r="1.8"/><circle cx="255.1" cy="185.3" r="1.8"/><circle cx="258.9" cy="185.3" r="1.8"/><circle cx="245.0" cy="194.7" r="1.8"/><circle cx="236.0" cy="204.8" r="1.8"/><circle cx="233.7" cy="211.6" r="1.8"/><circle cx="221.4" cy="221.7" r="1.8"/><circle cx="286.5" cy="199.2" r="1.8"/><circle cx="288.8" cy="222.8" r="1.8"/><circle cx="282.0" cy="233.4" r="1.8"/><circle cx="277.6" cy="259.5" r="1.8"/><circle cx="263.4" cy="256.5" r="1.8"/><circle cx="251.3" cy="259.9" r="1.8"/><circle cx="249.5" cy="254.3" r="1.8"/><circle cx="258.4" cy="241.9" r="1.8"/><circle cx="233.7" cy="262.2" r="1.8"/><circle cx="222.5" cy="266.7" r="1.8"/><circle cx="210.1" cy="271.6" r="1.8"/><circle cx="263.1" cy="257.4" r="1.8"/><circle cx="251.0" cy="260.2" r="1.8"/><circle cx="249.3" cy="252.6" r="1.8"/><circle cx="242.9" cy="257.4" r="1.8"/><circle cx="248.5" cy="247.7" r="1.8"/><circle cx="258.2" cy="242.9" r="1.8"/><circle cx="261.5" cy="241.2" r="1.8"/><circle cx="275.9" cy="176.0" r="1.8"/><circle cx="285.1" cy="175.6" r="1.8"/><circle cx="286.2" cy="178.5" r="1.8"/><circle cx="291.0" cy="182.4" r="1.8"/><circle cx="299.1" cy="173.8" r="1.8"/><circle cx="294.7" cy="195.9" r="1.8"/><circle cx="295.9" cy="200.0" r="1.8"/><circle cx="286.6" cy="200.0" r="1.8"/><circle cx="289.6" cy="209.9" r="1.8"/><circle cx="296.9" cy="209.1" r="1.8"/><circle cx="291.0" cy="223.8" r="1.8"/><circle cx="281.5" cy="233.4" r="1.8"/><circle cx="282.9" cy="195.1" r="1.8"/><circle cx="279.3" cy="201.8" r="1.8"/><circle cx="281.5" cy="206.2" r="1.8"/><circle cx="285.1" cy="207.6" r="1.8"/><circle cx="288.1" cy="206.9" r="1.8"/><circle cx="277.1" cy="190.7" r="1.8"/><circle cx="275.6" cy="188.5" r="1.8"/><circle cx="284.4" cy="185.6" r="1.8"/><circle cx="278.5" cy="179.7" r="1.8"/><circle cx="300.5" cy="173.4" r="1.8"/><circle cx="285.8" cy="176.0" r="1.8"/><circle cx="286.3" cy="178.5" r="1.8"/><circle cx="285.0" cy="185.2" r="1.8"/><circle cx="290.9" cy="182.4" r="1.8"/><circle cx="291.7" cy="182.4" r="1.8"/><circle cx="303.5" cy="181.8" r="1.8"/><circle cx="304.3" cy="180.7" r="1.8"/><circle cx="312.7" cy="181.0" r="1.8"/><circle cx="316.9" cy="185.5" r="1.8"/><circle cx="359.8" cy="190.4" r="1.8"/><circle cx="295.9" cy="195.3" r="1.8"/><circle cx="295.9" cy="200.0" r="1.8"/><circle cx="286.7" cy="200.0" r="1.8"/><circle cx="287.5" cy="200.0" r="1.8"/><circle cx="306.0" cy="204.5" r="1.8"/><circle cx="305.2" cy="207.1" r="1.8"/><circle cx="303.5" cy="209.6" r="1.8"/><circle cx="297.6" cy="209.6" r="1.8"/><circle cx="291.4" cy="209.6" r="1.8"/><circle cx="288.4" cy="210.9" r="1.8"/><circle cx="286.7" cy="207.9" r="1.8"/><circle cx="285.0" cy="207.1" r="1.8"/><circle cx="291.4" cy="223.9" r="1.8"/><circle cx="276.2" cy="175.8" r="1.8"/><circle cx="285.7" cy="177.4" r="1.8"/><circle cx="290.4" cy="182.1" r="1.8"/><circle cx="295.9" cy="195.5" r="1.8"/><circle cx="295.9" cy="200.2" r="1.8"/><circle cx="287.3" cy="199.4" r="1.8"/><circle cx="297.5" cy="208.9" r="1.8"/><circle cx="291.2" cy="208.9" r="1.8"/><circle cx="290.4" cy="223.8" r="1.8"/><circle cx="281.8" cy="233.3" r="1.8"/><circle cx="273.1" cy="229.4" r="1.8"/><circle cx="272.3" cy="222.3" r="1.8"/><circle cx="273.9" cy="220.7" r="1.8"/></g>
<g fill="#1f63a0" fill-opacity="0.61" stroke="#1f63a0" stroke-opacity="0.66" stroke-width="0.9"><circle cx="272.4" cy="222.5" r="1.8"/><circle cx="289.6" cy="204.9" r="1.8"/><circle cx="263.0" cy="233.1" r="1.8"/><circle cx="272.0" cy="207.4" r="1.8"/><circle cx="280.1" cy="204.6" r="1.8"/><circle cx="269.1" cy="190.6" r="1.8"/><circle cx="285.2" cy="202.6" r="1.8"/><circle cx="279.7" cy="194.8" r="1.8"/><circle cx="284.3" cy="199.8" r="1.8"/><circle cx="267.7" cy="190.0" r="1.8"/><circle cx="268.5" cy="190.3" r="1.8"/><circle cx="279.1" cy="180.6" r="1.8"/><circle cx="272.0" cy="214.1" r="1.8"/><circle cx="267.2" cy="190.4" r="1.8"/><circle cx="266.9" cy="187.8" r="1.8"/><circle cx="279.8" cy="209.2" r="1.8"/><circle cx="295.2" cy="190.6" r="1.8"/><circle cx="291.9" cy="214.0" r="1.8"/><circle cx="285.7" cy="199.9" r="1.8"/><circle cx="256.8" cy="242.5" r="1.8"/><circle cx="276.4" cy="211.3" r="1.8"/><circle cx="272.0" cy="199.9" r="1.8"/><circle cx="267.4" cy="190.1" r="1.8"/><circle cx="277.7" cy="185.5" r="1.8"/><circle cx="278.1" cy="191.9" r="1.8"/><circle cx="265.7" cy="189.8" r="1.8"/><circle cx="272.6" cy="185.7" r="1.8"/><circle cx="285.0" cy="218.9" r="1.8"/><circle cx="280.4" cy="226.3" r="1.8"/><circle cx="271.1" cy="199.8" r="1.8"/><circle cx="253.1" cy="243.5" r="1.8"/><circle cx="280.9" cy="228.4" r="1.8"/><circle cx="262.4" cy="233.3" r="1.8"/><circle cx="296.0" cy="194.8" r="1.8"/><circle cx="288.0" cy="218.9" r="1.8"/><circle cx="260.1" cy="238.0" r="1.8"/><circle cx="265.2" cy="228.4" r="1.8"/><circle cx="273.1" cy="199.9" r="1.8"/><circle cx="256.7" cy="242.6" r="1.8"/><circle cx="270.4" cy="201.7" r="1.8"/><circle cx="276.0" cy="219.1" r="1.8"/><circle cx="274.8" cy="201.3" r="1.8"/><circle cx="270.1" cy="193.0" r="1.8"/><circle cx="264.9" cy="225.5" r="1.8"/><circle cx="278.8" cy="204.8" r="1.8"/></g>
<g fill="#1f63a0" fill-opacity="0.61" stroke="#1f63a0" stroke-opacity="0.66" stroke-width="0.9"><circle cx="220.4" cy="233.2" r="1.8"/><circle cx="217.9" cy="228.6" r="1.8"/><circle cx="257.7" cy="185.8" r="1.8"/><circle cx="224.1" cy="223.2" r="1.8"/><circle cx="217.6" cy="242.2" r="1.8"/><circle cx="235.0" cy="211.8" r="1.8"/><circle cx="231.4" cy="214.3" r="1.8"/><circle cx="214.0" cy="233.1" r="1.8"/><circle cx="235.4" cy="214.3" r="1.8"/><circle cx="251.0" cy="190.4" r="1.8"/><circle cx="226.2" cy="228.5" r="1.8"/><circle cx="235.8" cy="213.8" r="1.8"/><circle cx="244.7" cy="199.5" r="1.8"/><circle cx="238.1" cy="204.4" r="1.8"/><circle cx="250.8" cy="190.5" r="1.8"/><circle cx="214.4" cy="233.6" r="1.8"/><circle cx="211.2" cy="256.8" r="1.8"/><circle cx="251.3" cy="194.3" r="1.8"/><circle cx="243.7" cy="204.5" r="1.8"/><circle cx="211.6" cy="252.1" r="1.8"/><circle cx="216.9" cy="242.5" r="1.8"/><circle cx="234.6" cy="204.6" r="1.8"/><circle cx="216.7" cy="237.6" r="1.8"/><circle cx="245.2" cy="204.7" r="1.8"/><circle cx="235.6" cy="217.1" r="1.8"/></g>
</g>
<g>
<g fill="#50697f" fill-opacity="0.73" stroke="#50697f" stroke-opacity="0.79" stroke-width="0.9"><circle cx="416.4" cy="238.7" r="1.8"/><circle cx="403.9" cy="244.7" r="1.8"/><circle cx="397.4" cy="243.3" r="1.8"/><circle cx="427.5" cy="219.5" r="1.8"/><circle cx="402.9" cy="247.9" r="1.8"/><circle cx="442.6" cy="198.9" r="1.8"/><circle cx="411.9" cy="215.3" r="1.8"/><circle cx="400.9" cy="258.0" r="1.8"/><circle cx="463.0" cy="199.2" r="1.8"/><circle cx="393.6" cy="263.0" r="1.8"/><circle cx="412.0" cy="241.1" r="1.8"/><circle cx="395.6" cy="253.4" r="1.8"/><circle cx="449.7" cy="207.4" r="1.8"/><circle cx="395.5" cy="246.8" r="1.8"/><circle cx="409.8" cy="217.7" r="1.8"/><circle cx="404.8" cy="246.4" r="1.8"/><circle cx="455.5" cy="204.2" r="1.8"/><circle cx="401.6" cy="249.3" r="1.8"/><circle cx="414.2" cy="215.8" r="1.8"/><circle cx="412.8" cy="239.8" r="1.8"/><circle cx="414.5" cy="245.8" r="1.8"/><circle cx="434.5" cy="222.1" r="1.8"/><circle cx="415.4" cy="244.7" r="1.8"/><circle cx="404.7" cy="240.5" r="1.8"/><circle cx="389.7" cy="260.7" r="1.8"/><circle cx="439.1" cy="209.5" r="1.8"/><circle cx="417.7" cy="226.9" r="1.8"/><circle cx="423.1" cy="238.8" r="1.8"/><circle cx="442.4" cy="210.7" r="1.8"/><circle cx="452.7" cy="187.8" r="1.8"/><circle cx="421.0" cy="215.8" r="1.8"/><circle cx="418.6" cy="208.6" r="1.8"/><circle cx="407.1" cy="218.9" r="1.8"/><circle cx="399.1" cy="244.4" r="1.8"/><circle cx="394.3" cy="247.0" r="1.8"/><circle cx="406.6" cy="246.5" r="1.8"/><circle cx="393.3" cy="248.1" r="1.8"/><circle cx="428.0" cy="222.6" r="1.8"/><circle cx="413.3" cy="239.3" r="1.8"/><circle cx="445.5" cy="204.6" r="1.8"/><circle cx="449.9" cy="210.5" r="1.8"/><circle cx="424.8" cy="237.0" r="1.8"/><circle cx="452.6" cy="196.3" r="1.8"/><circle cx="431.9" cy="211.3" r="1.8"/><circle cx="435.4" cy="206.7" r="1.8"/><circle cx="425.9" cy="196.3" r="1.8"/><circle cx="436.4" cy="191.7" r="1.8"/><circle cx="424.0" cy="211.1" r="1.8"/><circle cx="415.1" cy="218.4" r="1.8"/><circle cx="412.1" cy="248.5" r="1.8"/><circle cx="393.9" cy="256.2" r="1.8"/><circle cx="458.4" cy="197.0" r="1.8"/><circle cx="433.0" cy="213.4" r="1.8"/><circle cx="454.4" cy="192.8" r="1.8"/><circle cx="438.0" cy="222.7" r="1.8"/><circle cx="409.6" cy="218.9" r="1.8"/><circle cx="405.6" cy="240.8" r="1.8"/><circle cx="450.4" cy="206.6" r="1.8"/><circle cx="439.3" cy="201.6" r="1.8"/><circle cx="439.6" cy="215.0" r="1.8"/><circle cx="413.2" cy="214.4" r="1.8"/><circle cx="443.8" cy="199.4" r="1.8"/><circle cx="413.6" cy="230.8" r="1.8"/></g>
<g fill="#06a6d8" fill-opacity="0.79" stroke="#06a6d8" stroke-opacity="0.86" stroke-width="0.9"><circle cx="437.4" cy="194.3" r="1.8"/><circle cx="431.4" cy="227.6" r="1.8"/><circle cx="435.7" cy="201.0" r="1.8"/><circle cx="434.4" cy="227.5" r="1.8"/><circle cx="438.3" cy="190.8" r="1.8"/><circle cx="429.6" cy="192.8" r="1.8"/><circle cx="407.5" cy="213.4" r="1.8"/><circle cx="396.6" cy="242.0" r="1.8"/><circle cx="445.6" cy="203.9" r="1.8"/><circle cx="415.1" cy="206.1" r="1.8"/><circle cx="398.8" cy="252.4" r="1.8"/><circle cx="409.0" cy="221.6" r="1.8"/><circle cx="430.9" cy="215.9" r="1.8"/><circle cx="446.3" cy="202.1" r="1.8"/><circle cx="428.0" cy="209.1" r="1.8"/><circle cx="452.6" cy="208.2" r="1.8"/><circle cx="416.0" cy="238.2" r="1.8"/><circle cx="429.0" cy="201.2" r="1.8"/><circle cx="420.1" cy="222.2" r="1.8"/><circle cx="411.0" cy="214.8" r="1.8"/><circle cx="453.6" cy="193.3" r="1.8"/><circle cx="438.0" cy="211.0" r="1.8"/><circle cx="432.6" cy="208.6" r="1.8"/><circle cx="446.1" cy="192.9" r="1.8"/><circle cx="428.8" cy="231.2" r="1.8"/><circle cx="432.1" cy="227.2" r="1.8"/><circle cx="433.6" cy="195.2" r="1.8"/><circle cx="453.5" cy="194.7" r="1.8"/><circle cx="391.4" cy="256.0" r="1.8"/><circle cx="409.0" cy="249.8" r="1.8"/><circle cx="405.3" cy="253.8" r="1.8"/><circle cx="413.8" cy="216.7" r="1.8"/><circle cx="397.5" cy="239.3" r="1.8"/><circle cx="432.8" cy="215.0" r="1.8"/><circle cx="395.8" cy="236.6" r="1.8"/><circle cx="432.7" cy="205.4" r="1.8"/><circle cx="388.6" cy="259.4" r="1.8"/><circle cx="416.9" cy="220.9" r="1.8"/><circle cx="429.1" cy="219.4" r="1.8"/><circle cx="445.0" cy="214.2" r="1.8"/><circle cx="429.9" cy="195.6" r="1.8"/><circle cx="395.4" cy="245.5" r="1.8"/><circle cx="403.3" cy="221.4" r="1.8"/><circle cx="432.9" cy="203.4" r="1.8"/><circle cx="432.8" cy="215.3" r="1.8"/><circle cx="405.3" cy="223.7" r="1.8"/><circle cx="400.5" cy="257.0" r="1.8"/></g>
<g fill="#50697f" fill-opacity="0.73" stroke="#50697f" stroke-opacity="0.79" stroke-width="0.9"><circle cx="399.4" cy="221.3" r="1.8"/><circle cx="402.3" cy="223.4" r="1.8"/><circle cx="397.3" cy="226.9" r="1.8"/><circle cx="395.9" cy="230.4" r="1.8"/><circle cx="400.2" cy="228.3" r="1.8"/><circle cx="405.8" cy="226.9" r="1.8"/><circle cx="408.6" cy="228.3" r="1.8"/><circle cx="402.3" cy="233.9" r="1.8"/><circle cx="405.8" cy="233.9" r="1.8"/><circle cx="407.2" cy="242.4" r="1.8"/><circle cx="408.6" cy="248.0" r="1.8"/><circle cx="409.3" cy="252.2" r="1.8"/><circle cx="404.4" cy="255.0" r="1.8"/><circle cx="400.9" cy="253.6" r="1.8"/><circle cx="399.4" cy="250.8" r="1.8"/><circle cx="395.9" cy="252.2" r="1.8"/><circle cx="394.5" cy="255.0" r="1.8"/><circle cx="393.1" cy="257.9" r="1.8"/><circle cx="391.7" cy="260.0" r="1.8"/><circle cx="394.5" cy="262.1" r="1.8"/><circle cx="398.0" cy="262.1" r="1.8"/><circle cx="400.9" cy="261.4" r="1.8"/><circle cx="397.3" cy="258.6" r="1.8"/><circle cx="386.1" cy="247.3" r="1.8"/><circle cx="386.1" cy="251.5" r="1.8"/><circle cx="388.2" cy="253.6" r="1.8"/><circle cx="386.8" cy="255.7" r="1.8"/><circle cx="384.7" cy="259.3" r="1.8"/><circle cx="386.8" cy="262.1" r="1.8"/><circle cx="383.3" cy="265.6" r="1.8"/><circle cx="386.1" cy="266.3" r="1.8"/><circle cx="388.9" cy="264.9" r="1.8"/><circle cx="391.7" cy="265.6" r="1.8"/><circle cx="381.9" cy="270.5" r="1.8"/><circle cx="384.7" cy="267.7" r="1.8"/><circle cx="424.1" cy="233.9" r="1.8"/><circle cx="426.2" cy="231.1" r="1.8"/><circle cx="429.0" cy="227.6" r="1.8"/><circle cx="429.7" cy="224.1" r="1.8"/><circle cx="429.7" cy="235.3" r="1.8"/><circle cx="427.6" cy="238.9" r="1.8"/><circle cx="426.2" cy="242.4" r="1.8"/><circle cx="417.0" cy="224.1" r="1.8"/><circle cx="412.8" cy="225.5" r="1.8"/><circle cx="401.6" cy="245.2" r="1.8"/><circle cx="406.5" cy="243.8" r="1.8"/><circle cx="403.7" cy="250.8" r="1.8"/><circle cx="418.4" cy="218.4" r="1.8"/><circle cx="422.7" cy="219.9" r="1.8"/><circle cx="436.0" cy="172.2" r="1.8"/><circle cx="437.5" cy="175.1" r="1.8"/><circle cx="435.3" cy="179.6" r="1.8"/><circle cx="439.7" cy="178.8" r="1.8"/><circle cx="441.2" cy="181.8" r="1.8"/><circle cx="445.6" cy="184.0" r="1.8"/><circle cx="443.4" cy="186.9" r="1.8"/><circle cx="438.2" cy="186.2" r="1.8"/><circle cx="436.0" cy="189.1" r="1.8"/><circle cx="441.2" cy="191.3" r="1.8"/><circle cx="437.5" cy="192.1" r="1.8"/><circle cx="433.8" cy="195.0" r="1.8"/><circle cx="428.7" cy="197.2" r="1.8"/><circle cx="414.7" cy="197.9" r="1.8"/><circle cx="422.1" cy="199.4" r="1.8"/><circle cx="425.0" cy="201.6" r="1.8"/><circle cx="429.4" cy="201.6" r="1.8"/><circle cx="431.6" cy="203.8" r="1.8"/><circle cx="435.3" cy="202.4" r="1.8"/><circle cx="427.2" cy="204.6" r="1.8"/><circle cx="421.3" cy="204.6" r="1.8"/><circle cx="419.9" cy="208.2" r="1.8"/><circle cx="415.4" cy="207.5" r="1.8"/><circle cx="411.8" cy="210.4" r="1.8"/><circle cx="408.1" cy="214.1" r="1.8"/><circle cx="404.4" cy="218.5" r="1.8"/><circle cx="402.2" cy="220.7" r="1.8"/><circle cx="400.0" cy="221.5" r="1.8"/><circle cx="406.6" cy="220.0" r="1.8"/><circle cx="410.3" cy="217.8" r="1.8"/><circle cx="414.0" cy="215.6" r="1.8"/><circle cx="418.4" cy="214.1" r="1.8"/><circle cx="422.1" cy="216.3" r="1.8"/><circle cx="417.6" cy="220.7" r="1.8"/><circle cx="413.2" cy="222.2" r="1.8"/><circle cx="408.8" cy="224.4" r="1.8"/><circle cx="404.4" cy="228.8" r="1.8"/><circle cx="402.2" cy="231.8" r="1.8"/><circle cx="414.7" cy="226.6" r="1.8"/><circle cx="419.1" cy="225.1" r="1.8"/><circle cx="424.3" cy="225.9" r="1.8"/><circle cx="429.4" cy="223.7" r="1.8"/><circle cx="427.2" cy="220.7" r="1.8"/><circle cx="431.6" cy="217.8" r="1.8"/><circle cx="436.0" cy="214.1" r="1.8"/><circle cx="436.8" cy="209.7" r="1.8"/><circle cx="441.2" cy="206.8" r="1.8"/><circle cx="444.1" cy="204.6" r="1.8"/><circle cx="447.1" cy="201.6" r="1.8"/><circle cx="448.5" cy="205.3" r="1.8"/><circle cx="452.2" cy="204.6" r="1.8"/><circle cx="455.1" cy="209.0" r="1.8"/><circle cx="456.6" cy="214.9" r="1.8"/><circle cx="448.5" cy="218.5" r="1.8"/><circle cx="447.8" cy="228.8" r="1.8"/><circle cx="429.4" cy="228.8" r="1.8"/><circle cx="425.7" cy="231.8" r="1.8"/><circle cx="427.9" cy="234.7" r="1.8"/><circle cx="424.3" cy="237.6" r="1.8"/><circle cx="420.6" cy="237.6" r="1.8"/><circle cx="436.0" cy="233.2" r="1.8"/><circle cx="455.1" cy="190.6" r="1.8"/><circle cx="458.1" cy="189.9" r="1.8"/><circle cx="463.2" cy="199.4" r="1.8"/><circle cx="464.0" cy="200.9" r="1.8"/><circle cx="461.0" cy="185.4" r="1.8"/><circle cx="459.6" cy="186.2" r="1.8"/><circle cx="461.8" cy="192.8" r="1.8"/><circle cx="460.3" cy="176.6" r="1.8"/><circle cx="461.0" cy="178.8" r="1.8"/><circle cx="441.2" cy="200.1" r="1.8"/><circle cx="438.2" cy="198.7" r="1.8"/><circle cx="450.0" cy="200.9" r="1.8"/><circle cx="461.0" cy="178.6" r="1.8"/><circle cx="460.3" cy="185.2" r="1.8"/><circle cx="459.6" cy="186.7" r="1.8"/><circle cx="454.4" cy="190.4" r="1.8"/><circle cx="456.6" cy="190.4" r="1.8"/><circle cx="458.8" cy="190.4" r="1.8"/><circle cx="463.2" cy="193.3" r="1.8"/><circle cx="455.1" cy="197.7" r="1.8"/><circle cx="457.4" cy="197.7" r="1.8"/><circle cx="463.2" cy="200.6" r="1.8"/><circle cx="464.7" cy="199.9" r="1.8"/><circle cx="451.5" cy="205.1" r="1.8"/><circle cx="450.7" cy="207.3" r="1.8"/><circle cx="455.1" cy="208.7" r="1.8"/><circle cx="461.8" cy="212.4" r="1.8"/><circle cx="456.6" cy="215.4" r="1.8"/><circle cx="450.0" cy="218.3" r="1.8"/><circle cx="449.3" cy="218.9" r="1.8"/><circle cx="429.8" cy="224.1" r="1.8"/><circle cx="429.1" cy="228.7" r="1.8"/><circle cx="424.6" cy="233.2" r="1.8"/><circle cx="425.9" cy="231.3" r="1.8"/><circle cx="429.8" cy="235.2" r="1.8"/><circle cx="427.8" cy="237.8" r="1.8"/><circle cx="436.3" cy="233.2" r="1.8"/><circle cx="448.0" cy="228.7" r="1.8"/><circle cx="425.9" cy="242.4" r="1.8"/><circle cx="423.9" cy="225.4" r="1.8"/><circle cx="440.8" cy="218.9" r="1.8"/><circle cx="436.9" cy="222.8" r="1.8"/><circle cx="421.3" cy="218.9" r="1.8"/></g>
<g fill="#1f63a0" fill-opacity="0.73" stroke="#1f63a0" stroke-opacity="0.79" stroke-width="0.9"><circle cx="400.2" cy="238.2" r="1.8"/><circle cx="398.0" cy="235.3" r="1.8"/><circle cx="403.0" cy="238.9" r="1.8"/><circle cx="405.8" cy="218.4" r="1.8"/><circle cx="412.8" cy="212.8" r="1.8"/><circle cx="460.3" cy="186.2" r="1.8"/><circle cx="436.8" cy="197.9" r="1.8"/><circle cx="433.1" cy="198.7" r="1.8"/><circle cx="425.2" cy="217.0" r="1.8"/><circle cx="427.8" cy="216.3" r="1.8"/></g>
<g fill="#06a6d8" fill-opacity="0.81" stroke="#06a6d8" stroke-opacity="0.89" stroke-width="0.9"><circle cx="392.8" cy="216.3" r="1.8"/><circle cx="388.6" cy="224.4" r="1.8"/><circle cx="394.5" cy="223.8" r="1.8"/><circle cx="405.1" cy="214.2" r="1.8"/><circle cx="407.2" cy="212.1" r="1.8"/><circle cx="411.4" cy="215.6" r="1.8"/><circle cx="414.2" cy="218.4" r="1.8"/><circle cx="410.0" cy="221.3" r="1.8"/><circle cx="407.2" cy="224.1" r="1.8"/><circle cx="404.4" cy="229.7" r="1.8"/><circle cx="408.6" cy="231.1" r="1.8"/><circle cx="412.8" cy="229.7" r="1.8"/><circle cx="417.0" cy="226.9" r="1.8"/><circle cx="420.6" cy="227.6" r="1.8"/><circle cx="421.3" cy="231.1" r="1.8"/><circle cx="419.9" cy="232.5" r="1.8"/><circle cx="425.5" cy="222.7" r="1.8"/><circle cx="428.3" cy="218.4" r="1.8"/><circle cx="431.1" cy="215.6" r="1.8"/><circle cx="424.1" cy="215.6" r="1.8"/><circle cx="419.9" cy="212.8" r="1.8"/><circle cx="399.4" cy="233.9" r="1.8"/><circle cx="397.3" cy="238.2" r="1.8"/><circle cx="400.2" cy="241.0" r="1.8"/><circle cx="403.0" cy="242.4" r="1.8"/><circle cx="395.9" cy="242.4" r="1.8"/><circle cx="394.5" cy="245.2" r="1.8"/><circle cx="393.1" cy="248.0" r="1.8"/><circle cx="398.7" cy="245.2" r="1.8"/><circle cx="400.9" cy="246.6" r="1.8"/><circle cx="406.5" cy="238.2" r="1.8"/><circle cx="410.0" cy="236.0" r="1.8"/><circle cx="403.7" cy="236.0" r="1.8"/><circle cx="396.6" cy="248.7" r="1.8"/><circle cx="388.9" cy="256.4" r="1.8"/><circle cx="386.1" cy="257.9" r="1.8"/><circle cx="390.3" cy="243.8" r="1.8"/><circle cx="431.6" cy="178.1" r="1.8"/><circle cx="434.6" cy="184.7" r="1.8"/><circle cx="429.4" cy="192.1" r="1.8"/><circle cx="432.4" cy="192.1" r="1.8"/><circle cx="435.3" cy="190.6" r="1.8"/><circle cx="438.2" cy="195.7" r="1.8"/><circle cx="427.9" cy="194.3" r="1.8"/><circle cx="411.0" cy="197.2" r="1.8"/><circle cx="409.6" cy="200.1" r="1.8"/><circle cx="406.6" cy="211.2" r="1.8"/><circle cx="405.1" cy="214.1" r="1.8"/><circle cx="405.9" cy="217.1" r="1.8"/><circle cx="410.3" cy="215.6" r="1.8"/><circle cx="416.2" cy="215.6" r="1.8"/><circle cx="414.7" cy="218.5" r="1.8"/><circle cx="420.6" cy="217.1" r="1.8"/><circle cx="425.0" cy="217.1" r="1.8"/><circle cx="423.5" cy="220.7" r="1.8"/><circle cx="426.5" cy="214.1" r="1.8"/><circle cx="429.4" cy="211.2" r="1.8"/><circle cx="432.4" cy="208.2" r="1.8"/><circle cx="435.3" cy="208.2" r="1.8"/><circle cx="429.4" cy="206.8" r="1.8"/><circle cx="425.0" cy="208.2" r="1.8"/><circle cx="408.8" cy="221.5" r="1.8"/><circle cx="404.4" cy="225.1" r="1.8"/><circle cx="408.8" cy="230.3" r="1.8"/><circle cx="405.9" cy="234.7" r="1.8"/><circle cx="413.2" cy="234.7" r="1.8"/><circle cx="420.6" cy="233.2" r="1.8"/><circle cx="419.1" cy="228.8" r="1.8"/><circle cx="434.6" cy="221.5" r="1.8"/><circle cx="438.2" cy="222.2" r="1.8"/><circle cx="440.4" cy="215.6" r="1.8"/><circle cx="444.9" cy="220.0" r="1.8"/><circle cx="447.8" cy="197.2" r="1.8"/><circle cx="450.7" cy="197.2" r="1.8"/><circle cx="452.2" cy="199.4" r="1.8"/><circle cx="445.6" cy="210.4" r="1.8"/><circle cx="455.1" cy="217.1" r="1.8"/><circle cx="461.0" cy="217.8" r="1.8"/><circle cx="452.9" cy="231.8" r="1.8"/><circle cx="456.6" cy="192.1" r="1.8"/><circle cx="462.5" cy="194.3" r="1.8"/><circle cx="463.2" cy="183.2" r="1.8"/><circle cx="461.8" cy="174.4" r="1.8"/><circle cx="464.0" cy="172.9" r="1.8"/><circle cx="469.1" cy="174.4" r="1.8"/><circle cx="466.2" cy="175.9" r="1.8"/><circle cx="442.6" cy="181.0" r="1.8"/><circle cx="439.7" cy="203.8" r="1.8"/><circle cx="436.8" cy="215.6" r="1.8"/><circle cx="471.3" cy="161.7" r="1.8"/><circle cx="461.8" cy="174.2" r="1.8"/><circle cx="464.0" cy="172.0" r="1.8"/><circle cx="464.7" cy="173.4" r="1.8"/><circle cx="471.3" cy="173.4" r="1.8"/><circle cx="469.9" cy="176.4" r="1.8"/><circle cx="464.0" cy="183.0" r="1.8"/><circle cx="469.9" cy="183.3" r="1.8"/><circle cx="461.0" cy="189.6" r="1.8"/><circle cx="456.6" cy="193.3" r="1.8"/><circle cx="455.9" cy="194.8" r="1.8"/><circle cx="450.7" cy="197.0" r="1.8"/><circle cx="461.0" cy="218.3" r="1.8"/><circle cx="455.1" cy="216.8" r="1.8"/><circle cx="444.7" cy="220.9" r="1.8"/><circle cx="434.3" cy="221.5" r="1.8"/><circle cx="461.0" cy="218.3" r="1.8"/><circle cx="454.5" cy="217.6" r="1.8"/><circle cx="452.6" cy="231.9" r="1.8"/><circle cx="453.2" cy="233.2" r="1.8"/><circle cx="438.2" cy="242.4" r="1.8"/><circle cx="442.8" cy="241.7" r="1.8"/><circle cx="420.7" cy="230.0" r="1.8"/><circle cx="439.5" cy="216.3" r="1.8"/></g>
<g fill="#ff9000" fill-opacity="0.66" stroke="#ff9000" stroke-opacity="0.72" stroke-width="0.9"><circle cx="418.4" cy="235.3" r="1.8"/><circle cx="419.2" cy="237.4" r="1.8"/><circle cx="414.2" cy="240.7" r="1.8"/><circle cx="410.7" cy="243.1" r="1.8"/><circle cx="412.8" cy="245.2" r="1.8"/><circle cx="402.3" cy="248.3" r="1.8"/><circle cx="391.7" cy="250.1" r="1.8"/><circle cx="390.3" cy="252.2" r="1.8"/><circle cx="391.0" cy="255.7" r="1.8"/><circle cx="393.1" cy="256.4" r="1.8"/><circle cx="394.5" cy="258.6" r="1.8"/><circle cx="397.3" cy="257.2" r="1.8"/><circle cx="384.0" cy="262.1" r="1.8"/><circle cx="394.5" cy="261.4" r="1.8"/><circle cx="419.1" cy="195.3" r="1.8"/><circle cx="416.9" cy="201.3" r="1.8"/><circle cx="416.2" cy="208.2" r="1.8"/><circle cx="422.1" cy="213.4" r="1.8"/><circle cx="423.5" cy="210.4" r="1.8"/><circle cx="415.4" cy="217.1" r="1.8"/><circle cx="418.4" cy="236.9" r="1.8"/><circle cx="434.6" cy="236.9" r="1.8"/><circle cx="445.6" cy="236.9" r="1.8"/><circle cx="413.2" cy="239.9" r="1.8"/><circle cx="408.1" cy="221.5" r="1.8"/><circle cx="434.3" cy="237.1" r="1.8"/><circle cx="446.1" cy="237.1" r="1.8"/><circle cx="420.0" cy="237.8" r="1.8"/></g>
</g>
<g>
<g fill="#1f63a0" fill-opacity="0.66" stroke="#1f63a0" stroke-opacity="0.72" stroke-width="0.9"><circle cx="72.9" cy="374.1" r="1.8"/><circle cx="62.1" cy="382.0" r="1.8"/><circle cx="70.5" cy="377.6" r="1.8"/><circle cx="50.3" cy="398.6" r="1.8"/><circle cx="44.3" cy="400.3" r="1.8"/><circle cx="62.7" cy="375.8" r="1.8"/><circle cx="40.5" cy="404.1" r="1.8"/><circle cx="57.1" cy="388.5" r="1.8"/><circle cx="53.7" cy="394.0" r="1.8"/><circle cx="71.4" cy="380.5" r="1.8"/><circle cx="52.4" cy="391.0" r="1.8"/><circle cx="49.8" cy="391.5" r="1.8"/><circle cx="58.4" cy="385.3" r="1.8"/><circle cx="62.9" cy="388.9" r="1.8"/><circle cx="42.4" cy="406.8" r="1.8"/><circle cx="70.7" cy="375.3" r="1.8"/><circle cx="58.5" cy="382.1" r="1.8"/><circle cx="62.0" cy="376.4" r="1.8"/><circle cx="53.7" cy="400.4" r="1.8"/><circle cx="57.7" cy="391.1" r="1.8"/><circle cx="55.9" cy="396.5" r="1.8"/><circle cx="61.9" cy="382.3" r="1.8"/><circle cx="61.6" cy="381.8" r="1.8"/><circle cx="45.4" cy="395.2" r="1.8"/><circle cx="40.8" cy="405.7" r="1.8"/><circle cx="69.7" cy="375.6" r="1.8"/><circle cx="51.4" cy="396.8" r="1.8"/><circle cx="52.7" cy="397.4" r="1.8"/><circle cx="64.5" cy="386.5" r="1.8"/><circle cx="69.0" cy="377.7" r="1.8"/><circle cx="51.3" cy="401.8" r="1.8"/><circle cx="52.6" cy="393.2" r="1.8"/><circle cx="45.5" cy="399.4" r="1.8"/><circle cx="52.0" cy="401.2" r="1.8"/><circle cx="73.4" cy="376.0" r="1.8"/><circle cx="66.0" cy="383.5" r="1.8"/><circle cx="62.3" cy="376.2" r="1.8"/><circle cx="40.1" cy="405.0" r="1.8"/><circle cx="68.2" cy="372.5" r="1.8"/><circle cx="62.2" cy="381.0" r="1.8"/><circle cx="41.4" cy="404.1" r="1.8"/><circle cx="67.8" cy="380.5" r="1.8"/><circle cx="40.8" cy="405.1" r="1.8"/><circle cx="68.0" cy="373.1" r="1.8"/><circle cx="56.2" cy="399.4" r="1.8"/><circle cx="55.4" cy="392.9" r="1.8"/><circle cx="66.6" cy="377.0" r="1.8"/><circle cx="55.9" cy="393.1" r="1.8"/><circle cx="48.5" cy="402.0" r="1.8"/><circle cx="66.7" cy="377.4" r="1.8"/><circle cx="57.9" cy="394.8" r="1.8"/><circle cx="59.4" cy="391.8" r="1.8"/><circle cx="51.8" cy="399.2" r="1.8"/><circle cx="60.5" cy="380.5" r="1.8"/><circle cx="66.5" cy="373.6" r="1.8"/><circle cx="52.4" cy="393.6" r="1.8"/><circle cx="54.8" cy="399.7" r="1.8"/><circle cx="44.9" cy="404.7" r="1.8"/><circle cx="55.1" cy="395.4" r="1.8"/><circle cx="45.7" cy="401.6" r="1.8"/><circle cx="41.8" cy="400.3" r="1.8"/><circle cx="61.3" cy="381.6" r="1.8"/><circle cx="54.4" cy="396.7" r="1.8"/><circle cx="47.5" cy="399.4" r="1.8"/><circle cx="51.4" cy="390.2" r="1.8"/><circle cx="44.5" cy="403.4" r="1.8"/><circle cx="55.2" cy="383.5" r="1.8"/><circle cx="69.3" cy="383.6" r="1.8"/><circle cx="49.5" cy="392.2" r="1.8"/><circle cx="67.1" cy="375.2" r="1.8"/><circle cx="49.2" cy="393.3" r="1.8"/><circle cx="50.4" cy="400.6" r="1.8"/><circle cx="48.5" cy="397.7" r="1.8"/><circle cx="50.1" cy="394.1" r="1.8"/><circle cx="65.0" cy="382.8" r="1.8"/><circle cx="70.8" cy="379.5" r="1.8"/><circle cx="50.2" cy="401.5" r="1.8"/><circle cx="68.4" cy="373.2" r="1.8"/><circle cx="62.4" cy="378.0" r="1.8"/><circle cx="54.4" cy="398.0" r="1.8"/><circle cx="47.6" cy="396.9" r="1.8"/><circle cx="51.8" cy="395.8" r="1.8"/><circle cx="71.2" cy="376.4" r="1.8"/><circle cx="71.9" cy="377.4" r="1.8"/><circle cx="54.0" cy="398.1" r="1.8"/><circle cx="56.4" cy="386.5" r="1.8"/><circle cx="58.8" cy="388.0" r="1.8"/><circle cx="63.5" cy="388.2" r="1.8"/><circle cx="50.1" cy="399.4" r="1.8"/><circle cx="54.1" cy="400.6" r="1.8"/><circle cx="66.2" cy="372.3" r="1.8"/><circle cx="49.7" cy="391.6" r="1.8"/><circle cx="48.9" cy="398.0" r="1.8"/><circle cx="53.8" cy="397.2" r="1.8"/><circle cx="66.7" cy="377.7" r="1.8"/><circle cx="52.5" cy="400.0" r="1.8"/><circle cx="56.4" cy="388.8" r="1.8"/><circle cx="66.6" cy="372.1" r="1.8"/><circle cx="51.7" cy="387.2" r="1.8"/><circle cx="56.6" cy="394.9" r="1.8"/><circle cx="58.4" cy="394.9" r="1.8"/><circle cx="60.2" cy="391.5" r="1.8"/><circle cx="53.2" cy="384.8" r="1.8"/><circle cx="66.1" cy="383.0" r="1.8"/><circle cx="59.3" cy="382.8" r="1.8"/><circle cx="63.3" cy="379.4" r="1.8"/><circle cx="53.0" cy="401.9" r="1.8"/><circle cx="53.5" cy="386.6" r="1.8"/><circle cx="43.9" cy="398.7" r="1.8"/><circle cx="50.2" cy="401.8" r="1.8"/><circle cx="86.4" cy="364.9" r="1.8"/><circle cx="83.4" cy="367.1" r="1.8"/><circle cx="82.8" cy="365.2" r="1.8"/><circle cx="79.5" cy="367.3" r="1.8"/><circle cx="79.8" cy="367.4" r="1.8"/><circle cx="84.6" cy="367.1" r="1.8"/><circle cx="82.6" cy="369.2" r="1.8"/><circle cx="85.3" cy="368.2" r="1.8"/><circle cx="84.1" cy="368.4" r="1.8"/><circle cx="87.1" cy="366.7" r="1.8"/><circle cx="85.1" cy="366.8" r="1.8"/><circle cx="83.2" cy="368.7" r="1.8"/><circle cx="82.3" cy="369.1" r="1.8"/><circle cx="83.4" cy="367.3" r="1.8"/><circle cx="46.0" cy="396.8" r="1.8"/><circle cx="69.6" cy="386.9" r="1.8"/><circle cx="48.6" cy="401.6" r="1.8"/><circle cx="63.1" cy="375.5" r="1.8"/><circle cx="67.1" cy="367.6" r="1.8"/><circle cx="77.6" cy="375.3" r="1.8"/><circle cx="45.5" cy="402.8" r="1.8"/><circle cx="44.0" cy="408.0" r="1.8"/><circle cx="60.5" cy="390.3" r="1.8"/><circle cx="55.0" cy="387.1" r="1.8"/><circle cx="76.9" cy="374.2" r="1.8"/><circle cx="66.9" cy="398.6" r="1.8"/><circle cx="79.3" cy="373.8" r="1.8"/><circle cx="58.3" cy="381.5" r="1.8"/><circle cx="60.4" cy="382.5" r="1.8"/><circle cx="62.7" cy="387.5" r="1.8"/><circle cx="65.4" cy="399.5" r="1.8"/><circle cx="48.9" cy="393.0" r="1.8"/><circle cx="65.7" cy="393.6" r="1.8"/><circle cx="55.1" cy="392.4" r="1.8"/><circle cx="41.0" cy="402.6" r="1.8"/><circle cx="76.8" cy="382.0" r="1.8"/><circle cx="56.6" cy="376.0" r="1.8"/><circle cx="81.8" cy="372.0" r="1.8"/><circle cx="41.2" cy="402.2" r="1.8"/><circle cx="79.8" cy="366.8" r="1.8"/><circle cx="64.1" cy="398.6" r="1.8"/><circle cx="59.1" cy="391.7" r="1.8"/><circle cx="64.6" cy="377.3" r="1.8"/><circle cx="76.3" cy="364.9" r="1.8"/><circle cx="67.1" cy="376.5" r="1.8"/><circle cx="83.2" cy="370.6" r="1.8"/><circle cx="44.8" cy="405.1" r="1.8"/><circle cx="70.7" cy="370.3" r="1.8"/><circle cx="64.8" cy="379.6" r="1.8"/><circle cx="62.5" cy="374.7" r="1.8"/><circle cx="56.7" cy="397.7" r="1.8"/><circle cx="40.9" cy="400.3" r="1.8"/><circle cx="46.5" cy="397.8" r="1.8"/><circle cx="50.4" cy="397.1" r="1.8"/><circle cx="57.3" cy="378.9" r="1.8"/><circle cx="63.0" cy="390.2" r="1.8"/><circle cx="85.4" cy="369.0" r="1.8"/><circle cx="67.9" cy="388.2" r="1.8"/><circle cx="53.3" cy="397.2" r="1.8"/><circle cx="64.2" cy="390.7" r="1.8"/><circle cx="40.9" cy="402.6" r="1.8"/><circle cx="41.4" cy="402.6" r="1.8"/><circle cx="70.1" cy="385.2" r="1.8"/><circle cx="63.7" cy="382.7" r="1.8"/><circle cx="57.9" cy="375.0" r="1.8"/><circle cx="50.1" cy="397.4" r="1.8"/><circle cx="60.6" cy="375.5" r="1.8"/><circle cx="57.1" cy="387.2" r="1.8"/><circle cx="62.4" cy="398.1" r="1.8"/><circle cx="57.1" cy="393.2" r="1.8"/><circle cx="43.2" cy="409.3" r="1.8"/><circle cx="73.1" cy="374.0" r="1.8"/><circle cx="54.6" cy="394.5" r="1.8"/><circle cx="72.0" cy="376.6" r="1.8"/><circle cx="50.5" cy="404.1" r="1.8"/><circle cx="45.4" cy="396.4" r="1.8"/><circle cx="47.8" cy="392.5" r="1.8"/><circle cx="51.7" cy="382.2" r="1.8"/><circle cx="59.7" cy="393.4" r="1.8"/><circle cx="57.1" cy="377.2" r="1.8"/><circle cx="39.5" cy="402.4" r="1.8"/><circle cx="72.9" cy="375.7" r="1.8"/><circle cx="65.5" cy="374.9" r="1.8"/><circle cx="41.8" cy="406.6" r="1.8"/><circle cx="68.9" cy="386.5" r="1.8"/><circle cx="51.3" cy="381.0" r="1.8"/><circle cx="52.7" cy="393.8" r="1.8"/><circle cx="82.5" cy="367.7" r="1.8"/><circle cx="71.8" cy="373.3" r="1.8"/><circle cx="58.3" cy="396.8" r="1.8"/><circle cx="41.7" cy="403.2" r="1.8"/><circle cx="55.4" cy="389.4" r="1.8"/><circle cx="69.3" cy="372.5" r="1.8"/><circle cx="45.9" cy="404.3" r="1.8"/><circle cx="71.9" cy="374.6" r="1.8"/><circle cx="77.6" cy="364.9" r="1.8"/><circle cx="55.4" cy="393.2" r="1.8"/><circle cx="70.2" cy="372.0" r="1.8"/><circle cx="46.7" cy="389.7" r="1.8"/><circle cx="59.0" cy="391.6" r="1.8"/><circle cx="59.1" cy="394.5" r="1.8"/><circle cx="70.4" cy="376.3" r="1.8"/><circle cx="59.3" cy="382.1" r="1.8"/><circle cx="62.3" cy="376.8" r="1.8"/><circle cx="64.8" cy="385.9" r="1.8"/><circle cx="39.5" cy="403.0" r="1.8"/><circle cx="62.8" cy="386.0" r="1.8"/><circle cx="57.3" cy="393.9" r="1.8"/><circle cx="67.8" cy="396.9" r="1.8"/><circle cx="56.6" cy="376.1" r="1.8"/><circle cx="69.6" cy="371.2" r="1.8"/><circle cx="72.0" cy="378.3" r="1.8"/><circle cx="62.7" cy="397.9" r="1.8"/><circle cx="48.7" cy="396.6" r="1.8"/><circle cx="54.6" cy="394.9" r="1.8"/><circle cx="72.7" cy="383.8" r="1.8"/><circle cx="43.9" cy="405.7" r="1.8"/><circle cx="70.6" cy="365.4" r="1.8"/><circle cx="60.0" cy="387.9" r="1.8"/><circle cx="69.7" cy="394.2" r="1.8"/><circle cx="56.1" cy="380.6" r="1.8"/><circle cx="60.7" cy="388.5" r="1.8"/><circle cx="49.0" cy="401.5" r="1.8"/><circle cx="60.6" cy="374.8" r="1.8"/></g>
<g fill="#1f63a0" fill-opacity="0.66" stroke="#1f63a0" stroke-opacity="0.72" stroke-width="0.9"><circle cx="70.4" cy="356.3" r="1.8"/><circle cx="77.0" cy="358.3" r="1.8"/><circle cx="84.2" cy="356.3" r="1.8"/><circle cx="70.4" cy="361.0" r="1.8"/><circle cx="71.7" cy="364.9" r="1.8"/><circle cx="66.4" cy="370.9" r="1.8"/><circle cx="59.8" cy="374.2" r="1.8"/><circle cx="49.2" cy="381.5" r="1.8"/><circle cx="81.6" cy="379.9" r="1.8"/><circle cx="74.3" cy="382.1" r="1.8"/><circle cx="73.0" cy="392.1" r="1.8"/><circle cx="69.7" cy="396.0" r="1.8"/><circle cx="67.7" cy="398.7" r="1.8"/><circle cx="61.8" cy="398.7" r="1.8"/><circle cx="59.1" cy="397.4" r="1.8"/><circle cx="63.1" cy="394.7" r="1.8"/><circle cx="82.3" cy="370.2" r="1.8"/><circle cx="58.4" cy="401.3" r="1.8"/><circle cx="38.6" cy="408.6" r="1.8"/><circle cx="42.6" cy="407.9" r="1.8"/><circle cx="40.6" cy="400.7" r="1.8"/><circle cx="85.6" cy="345.8" r="1.8"/><circle cx="86.7" cy="344.7" r="1.8"/><circle cx="88.4" cy="344.2" r="1.8"/><circle cx="90.0" cy="344.0" r="1.8"/><circle cx="91.1" cy="344.2" r="1.8"/><circle cx="85.6" cy="346.9" r="1.8"/><circle cx="102.0" cy="367.6" r="1.8"/><circle cx="108.9" cy="365.1" r="1.8"/></g>
</g>
<path d="M27.6 15.0H194.4M27.6 135.4H194.4" stroke="#8a8a8a" stroke-width="1" fill="none"/>
<path d="M27.6 14.5V135.9M194.4 14.5V135.9" stroke="#7a7a7a" stroke-width="1.1" fill="none"/>
<path d="M200.5 15.0H367.2M200.5 135.4H367.2" stroke="#8a8a8a" stroke-width="1" fill="none"/>
<path d="M200.5 14.5V135.9M367.2 14.5V135.9" stroke="#7a7a7a" stroke-width="1.1" fill="none"/>
<path d="M372.8 15.0H539.5M372.8 135.4H539.5" stroke="#8a8a8a" stroke-width="1" fill="none"/>
<path d="M372.8 14.5V135.9M539.5 14.5V135.9" stroke="#7a7a7a" stroke-width="1.1" fill="none"/>
<path d="M27.6 156.4H194.4M27.6 276.9H194.4" stroke="#8a8a8a" stroke-width="1" fill="none"/>
<path d="M27.6 155.9V277.4M194.4 155.9V277.4" stroke="#7a7a7a" stroke-width="1.1" fill="none"/>
<path d="M200.5 156.4H367.2M200.5 276.9H367.2" stroke="#8a8a8a" stroke-width="1" fill="none"/>
<path d="M200.5 155.9V277.4M367.2 155.9V277.4" stroke="#7a7a7a" stroke-width="1.1" fill="none"/>
<path d="M372.8 156.4H539.5M372.8 276.9H539.5" stroke="#8a8a8a" stroke-width="1" fill="none"/>
<path d="M372.8 155.9V277.4M539.5 155.9V277.4" stroke="#7a7a7a" stroke-width="1.1" fill="none"/>
<path d="M27.6 298.4H194.4M27.6 418.7H194.4" stroke="#8a8a8a" stroke-width="1" fill="none"/>
<path d="M27.6 297.9V419.2M194.4 297.9V419.2" stroke="#7a7a7a" stroke-width="1.1" fill="none"/>
<path d="M24.6 96.5H27.4M24.6 48.9H27.4M24.6 237.9H27.4M24.6 190.3H27.4M24.6 379.9H27.4M24.6 332.3H27.4M56.0 418.7V421.5M98.0 418.7V421.5M140.1 418.7V421.5M182.1 418.7V421.5M228.9 276.9V279.7M270.9 276.9V279.7M313.0 276.9V279.7M355.0 276.9V279.7M401.2 276.9V279.7M443.2 276.9V279.7M485.3 276.9V279.7M527.3 276.9V279.7" stroke="#333" stroke-width="1" fill="none"/>
<g font-family="Liberation Serif, serif" font-size="9.8" fill="#1a1a1a" stroke="#1a1a1a" stroke-width="0.15"><text x="22.8" y="99.9" text-anchor="end">10</text><text x="22.8" y="52.3" text-anchor="end">20</text><text x="22.8" y="241.3" text-anchor="end">10</text><text x="22.8" y="193.7" text-anchor="end">20</text><text x="22.8" y="383.3" text-anchor="end">10</text><text x="22.8" y="335.7" text-anchor="end">20</text><text x="56.0" y="429.7" text-anchor="middle">10</text><text x="98.0" y="429.7" text-anchor="middle">20</text><text x="140.1" y="429.7" text-anchor="middle">30</text><text x="182.1" y="429.7" text-anchor="middle">40</text><text x="228.9" y="287.9" text-anchor="middle">10</text><text x="270.9" y="287.9" text-anchor="middle">20</text><text x="313.0" y="287.9" text-anchor="middle">30</text><text x="355.0" y="287.9" text-anchor="middle">40</text><text x="401.2" y="287.9" text-anchor="middle">10</text><text x="443.2" y="287.9" text-anchor="middle">20</text><text x="485.3" y="287.9" text-anchor="middle">30</text><text x="527.3" y="287.9" text-anchor="middle">40</text></g>
<g font-family="Liberation Serif, serif" font-size="11.3" fill="#1a1a1a" stroke="#1a1a1a" stroke-width="0.25"><text x="111.0" y="10.1" text-anchor="middle">Beijing</text><text x="283.9" y="10.1" text-anchor="middle">Hebei</text><text x="456.1" y="10.1" text-anchor="middle">Heilongjiang</text><text x="111.0" y="151.5" text-anchor="middle">Inner Mongolia</text><text x="283.9" y="151.5" text-anchor="middle">Jilin</text><text x="456.1" y="151.5" text-anchor="middle">Liaoning</text><text x="111.0" y="293.5" text-anchor="middle">Shanxi</text></g>
<text x="283.7" y="440.2" text-anchor="middle" font-family="Liberation Serif, serif" font-size="9.6" fill="#1a1a1a">D(cm)</text>
<text transform="translate(8.8 216.4) rotate(-90)" text-anchor="middle" font-family="Liberation Serif, serif" font-size="9.3" fill="#1a1a1a" textLength="16.8" lengthAdjust="spacingAndGlyphs">H(m)</text>
<g font-family="Liberation Sans, sans-serif"><text x="37.3" y="466" font-size="11.2" fill="#222">Species</text><circle cx="91.4" cy="462.2" r="1.8" fill="#1f63a0" fill-opacity="0.7"/><text x="100.3" y="465.6" font-size="9.4" fill="#222" textLength="38.1" lengthAdjust="spacingAndGlyphs"><tspan font-style="italic">Larch</tspan> spp.</text><circle cx="148.1" cy="462.2" r="1.8" fill="#f0302a" fill-opacity="0.7"/><text x="168.2" y="465.6" font-size="9.4" fill="#222" textLength="51.8" lengthAdjust="spacingAndGlyphs"><tspan font-style="italic">Larix gmelinii</tspan></text><circle cx="242.5" cy="462.2" r="1.8" fill="#5d7a90" fill-opacity="0.7"/><text x="265.5" y="465.6" font-size="9.4" fill="#222" textLength="59" lengthAdjust="spacingAndGlyphs"><tspan font-style="italic">Larix kaempferi</tspan></text><circle cx="348.7" cy="462.2" r="1.8" fill="#06a6d8" fill-opacity="0.7"/><text x="370.9" y="465.6" font-size="9.4" fill="#222" textLength="51.5" lengthAdjust="spacingAndGlyphs"><tspan font-style="italic">Larix olgensis</tspan></text><circle cx="446.4" cy="462.2" r="1.8" fill="#ff9000" fill-opacity="0.7"/><text x="464.5" y="465.6" font-size="9.4" fill="#222" textLength="52.4" lengthAdjust="spacingAndGlyphs"><tspan font-style="italic">Larix principis</tspan></text></g>
</svg></body></html>
